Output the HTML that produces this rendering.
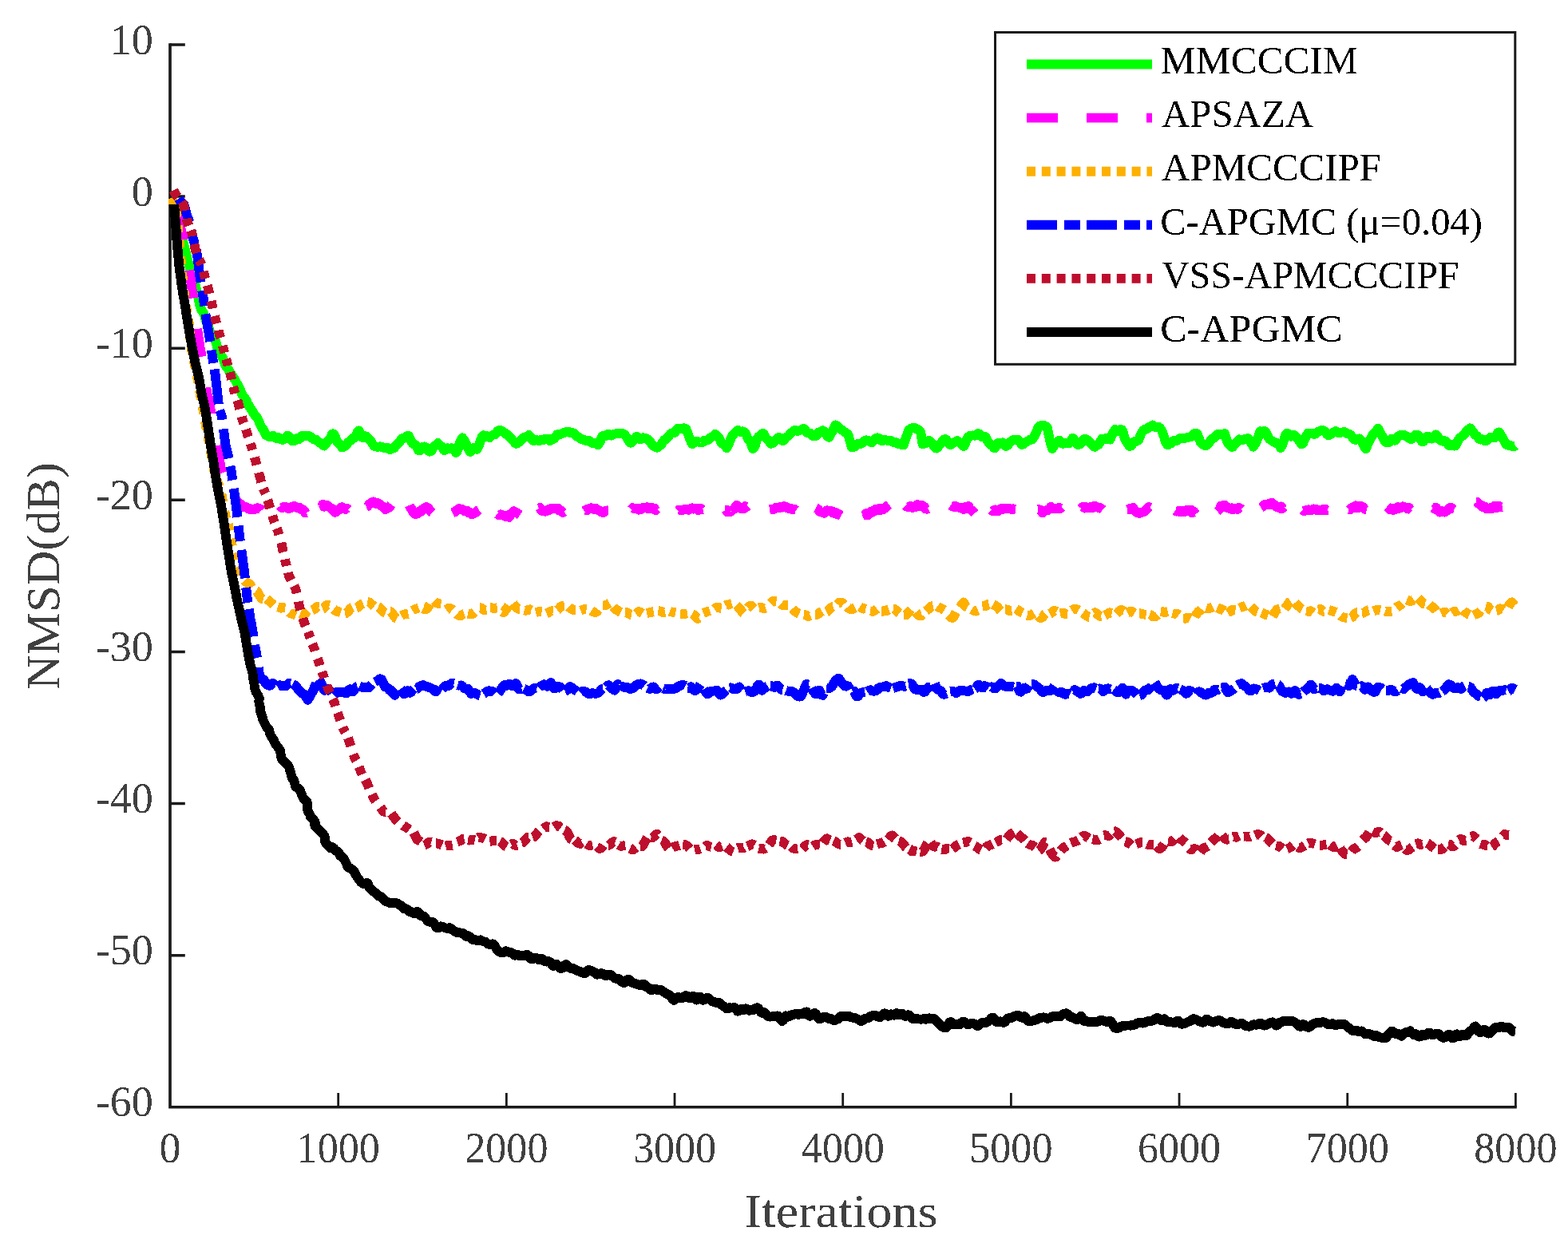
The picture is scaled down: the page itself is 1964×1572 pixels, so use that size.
<!DOCTYPE html>
<html><head><meta charset="utf-8"><title>NMSD vs Iterations</title>
<style>html,body{margin:0;padding:0;background:#fff;} svg{display:block;} text{font-family:'Liberation Serif', 'DejaVu Serif', serif;}</style>
</head><body>
<svg width="1964" height="1572" viewBox="0 0 1964 1572">
<rect width="1964" height="1572" fill="#fff"/>
<defs><filter id="alias" filterUnits="userSpaceOnUse" x="0" y="0" width="1964" height="1572" color-interpolation-filters="sRGB"><feComponentTransfer><feFuncA type="discrete" tableValues="0 1"/></feComponentTransfer></filter><clipPath id="plotclip"><rect x="211" y="40" width="1692" height="1347"/></clipPath></defs>
<path d="M213.0,54.25 V1386.77 H1899.8000000000002" fill="none" stroke="#1a1a1a" stroke-width="3.7" stroke-linejoin="miter" stroke-linecap="butt"/>
<path d="M213.0,56.00 H231.8 M213.0,246.11 H231.8 M213.0,436.22 H231.8 M213.0,626.33 H231.8 M213.0,816.44 H231.8 M213.0,1006.55 H231.8 M213.0,1196.66 H231.8" fill="none" stroke="#1a1a1a" stroke-width="3.5"/>
<path d="M423.68,1386.77 V1369.07 M634.35,1386.77 V1369.07 M845.03,1386.77 V1369.07 M1055.70,1386.77 V1369.07 M1266.38,1386.77 V1369.07 M1477.05,1386.77 V1369.07 M1687.73,1386.77 V1369.07 M1898.40,1386.77 V1369.07" fill="none" stroke="#1a1a1a" stroke-width="2.8"/>
<g clip-path="url(#plotclip)" shape-rendering="crispEdges"><path d="M216.0,249.3 L216.3,250.7 L216.7,252.2 L217.0,253.6 L217.3,255.0 L217.7,256.4 L218.0,257.8 L218.4,259.3 L218.7,260.9 L219.0,262.4 L219.4,264.0 L219.7,265.6 L220.0,267.2 L220.3,268.8 L220.6,270.3 L221.0,271.8 L221.3,273.4 L221.6,274.9 L221.9,276.4 L222.2,277.9 L222.6,279.2 L222.9,280.6 L223.3,282.0 L223.7,283.4 L224.0,284.8 L224.4,286.2 L224.8,287.7 L225.1,289.1 L225.5,290.5 L225.8,292.0 L226.2,293.4 L226.7,294.8 L227.1,296.1 L227.5,297.5 L227.9,298.9 L228.3,300.1 L228.8,301.4 L229.2,302.6 L229.6,303.8 L229.9,305.1 L230.3,306.5 L230.6,307.9 L231.0,309.3 L231.3,310.7 L231.7,312.1 L232.0,313.5 L232.4,315.1 L232.7,316.7 L233.1,318.3 L233.5,319.9 L233.9,321.4 L234.3,323.1 L234.7,324.7 L235.1,326.3 L235.5,327.9 L236.0,329.5 L236.4,331.0 L236.8,332.4 L237.2,333.7 L237.6,335.1 L238.0,336.5 L238.4,337.7 L238.9,338.9 L239.3,340.1 L239.8,341.2 L240.2,342.5 L240.7,343.8 L241.1,345.1 L241.6,346.4 L242.0,347.7 L242.5,349.3 L242.9,350.8 L243.4,352.4 L243.8,354.0 L244.3,355.5 L244.7,357.1 L245.1,358.6 L245.4,360.2 L245.8,361.7 L246.1,363.3 L246.5,364.9 L246.9,366.5 L247.2,368.1 L247.6,369.7 L248.0,371.4 L248.3,373.1 L248.7,374.9 L249.1,376.7 L249.4,378.4 L249.8,380.2 L250.1,381.7 L250.5,382.8 L250.9,383.9 L251.2,385.1 L251.6,386.2 L252.0,387.3 L252.3,388.0 L252.7,388.6 L253.1,389.2 L253.4,389.8 L253.8,390.4 L254.3,391.3 L254.9,392.5 L255.5,393.8 L256.2,395.4 L256.8,397.6 L257.5,399.8 L258.1,402.0 L258.7,403.7 L259.4,405.5 L260.0,407.2 L260.7,408.8 L261.3,410.4 L261.9,412.0 L262.6,413.9 L263.3,415.8 L264.0,417.7 L264.7,419.2 L265.4,420.6 L266.1,421.9 L266.9,422.3 L267.6,422.7 L268.3,423.5 L269.0,425.0 L269.7,426.5 L270.4,428.4 L270.9,430.6 L271.5,432.7 L272.0,434.9 L272.5,436.2 L273.1,437.6 L273.6,438.9 L274.1,440.2 L274.6,441.1 L275.2,442.1 L275.7,443.0 L276.2,443.9 L276.8,444.7 L277.3,445.5 L277.8,446.2 L278.4,447.2 L278.9,448.4 L279.4,449.5 L279.9,450.6 L280.5,452.3 L281.1,454.2 L281.9,456.1 L282.6,457.6 L283.3,459.0 L284.1,460.4 L284.8,461.1 L285.5,461.9 L286.3,462.9 L287.0,464.3 L287.7,465.7 L288.6,467.1 L289.5,468.6 L290.4,469.9 L291.3,471.1 L292.2,472.2 L293.1,473.8 L294.0,475.3 L294.9,476.8 L295.7,478.4 L296.4,479.8 L297.1,481.0 L297.9,482.2 L298.6,483.5 L299.3,484.8 L300.0,486.1 L300.7,487.9 L301.4,489.7 L302.1,491.4 L302.8,493.0 L303.5,494.6 L304.3,495.9 L305.0,496.8 L305.7,497.6 L306.4,498.5 L307.1,499.5 L307.9,500.5 L308.6,501.9 L309.3,503.4 L310.0,504.9 L310.8,506.3 L311.5,507.8 L312.2,509.1 L313.0,510.3 L313.8,511.4 L314.6,512.6 L315.4,513.7 L316.2,514.9 L317.0,516.5 L317.8,518.1 L318.6,519.2 L319.3,520.2 L320.1,521.2 L320.8,521.9 L321.6,522.5 L322.4,523.6 L323.1,525.1 L323.9,526.7 L324.6,528.4 L325.3,530.2 L326.0,532.0 L326.7,533.2 L327.3,534.5 L328.0,535.7 L328.7,536.5 L329.3,537.3 L330.0,538.2 L330.6,539.5 L331.2,540.8 L331.9,542.1 L332.5,543.8 L333.4,545.3 L334.9,545.9 L336.4,546.4 L337.9,547.1 L339.4,546.8 L340.9,546.1 L342.3,545.8 L343.8,547.3 L345.2,548.8 L346.7,549.2 L348.1,548.3 L349.6,548.2 L351.0,549.2 L352.5,550.4 L354.0,550.9 L355.4,550.3 L356.9,549.0 L358.3,547.3 L359.8,545.9 L361.2,546.0 L362.4,547.5 L363.6,549.2 L364.8,550.7 L366.0,552.2 L367.2,552.4 L368.4,552.3 L369.6,551.1 L370.7,549.9 L371.9,549.3 L373.0,549.9 L374.1,550.4 L375.2,549.5 L376.4,548.4 L377.5,546.6 L378.9,545.8 L380.3,545.6 L381.7,545.8 L383.1,545.8 L384.5,545.5 L385.9,545.6 L387.0,546.2 L388.1,546.7 L389.2,547.2 L390.3,547.9 L391.4,549.1 L392.6,550.1 L393.7,550.7 L394.8,550.8 L395.9,550.5 L397.2,551.7 L398.5,552.9 L399.8,554.1 L401.1,554.6 L402.4,555.2 L403.7,556.4 L404.9,557.8 L406.1,558.5 L406.9,557.5 L407.7,556.6 L408.5,555.4 L409.3,554.3 L410.1,553.1 L410.9,552.1 L411.7,551.2 L412.5,550.2 L413.3,549.2 L414.1,548.2 L414.9,546.2 L415.6,544.3 L416.5,543.3 L417.3,543.4 L418.1,543.7 L419.0,545.2 L419.8,546.6 L420.6,548.8 L421.5,551.2 L422.3,553.1 L423.1,554.0 L423.9,555.0 L424.8,555.6 L425.6,556.2 L426.4,557.3 L427.3,558.8 L428.1,560.3 L429.2,560.3 L430.4,559.8 L431.5,559.2 L432.7,558.3 L433.9,557.1 L435.1,555.6 L436.2,554.1 L437.4,553.1 L438.6,552.1 L439.6,551.1 L440.7,550.0 L441.7,548.9 L442.8,548.6 L443.9,548.5 L444.9,547.7 L446.0,546.8 L447.1,543.5 L448.1,540.4 L449.3,539.4 L450.6,541.2 L451.9,545.1 L453.2,547.5 L454.5,548.3 L455.8,546.7 L457.1,546.2 L458.4,546.5 L459.7,548.1 L460.9,548.9 L461.9,549.8 L462.9,550.7 L463.9,551.7 L464.9,553.2 L465.9,554.9 L466.9,556.3 L467.9,557.8 L468.9,558.8 L470.3,559.2 L471.7,559.6 L473.2,559.7 L474.6,559.6 L476.1,559.4 L477.5,559.7 L479.0,560.1 L480.4,560.6 L481.8,561.1 L483.3,561.0 L484.8,560.8 L486.2,561.4 L487.7,562.9 L489.2,562.8 L490.6,562.2 L492.1,561.4 L493.6,561.2 L494.6,559.9 L495.6,558.4 L496.6,557.2 L497.6,556.1 L498.6,555.3 L499.6,554.6 L500.6,553.5 L501.6,552.0 L502.6,550.5 L503.6,549.0 L505.1,549.0 L506.5,548.7 L508.0,547.7 L509.5,546.2 L510.9,545.6 L512.1,546.1 L513.0,548.3 L513.9,550.4 L514.7,552.2 L515.6,554.0 L516.5,555.1 L517.3,555.6 L518.2,556.2 L519.1,556.7 L519.9,557.2 L520.8,558.1 L521.7,559.0 L522.5,560.6 L523.4,562.6 L524.3,564.2 L525.5,564.5 L526.7,563.6 L527.9,561.9 L529.1,560.6 L530.3,559.6 L531.5,559.4 L532.8,560.1 L534.1,561.6 L535.3,563.2 L536.6,564.5 L537.9,565.7 L539.1,565.3 L540.4,564.7 L541.4,562.6 L542.4,560.9 L543.4,559.9 L544.4,558.9 L545.4,558.0 L546.4,557.1 L547.4,556.1 L548.4,555.0 L549.3,556.0 L550.3,557.0 L551.2,557.7 L552.1,558.4 L553.1,559.3 L554.0,560.1 L554.9,561.9 L555.9,563.6 L556.9,564.1 L558.1,562.9 L559.3,561.7 L560.5,561.1 L561.7,561.7 L562.9,562.0 L564.1,561.9 L565.2,561.3 L566.3,561.8 L567.3,562.0 L568.4,562.6 L569.5,564.1 L570.5,566.2 L571.3,567.0 L572.0,566.6 L572.8,564.8 L573.5,562.9 L574.2,560.9 L574.9,558.2 L575.6,555.5 L576.3,553.3 L577.0,551.9 L577.7,550.5 L578.4,549.2 L579.1,548.3 L580.0,549.6 L580.8,550.7 L581.6,551.8 L582.5,553.1 L583.3,554.7 L584.1,556.3 L585.0,558.2 L585.8,560.0 L586.6,561.9 L587.4,563.9 L588.3,565.4 L589.1,565.9 L590.5,564.1 L592.0,561.4 L593.4,561.0 L594.9,561.3 L596.3,562.1 L597.5,562.6 L598.1,561.7 L598.6,560.5 L599.2,559.4 L599.7,558.2 L600.3,556.7 L600.9,555.0 L601.4,553.3 L602.0,551.6 L602.5,550.2 L603.1,548.8 L603.6,547.4 L604.2,546.3 L604.8,545.7 L605.3,545.2 L606.3,546.3 L607.5,547.3 L608.7,547.2 L609.9,546.2 L611.1,546.5 L612.3,547.0 L613.5,547.9 L614.7,546.9 L615.8,545.6 L617.0,545.0 L618.1,544.6 L619.3,544.5 L620.4,543.8 L621.6,542.1 L622.7,540.7 L623.9,539.5 L625.0,538.9 L626.2,538.7 L627.4,539.3 L628.5,539.8 L629.7,540.5 L630.9,541.4 L632.1,542.4 L633.2,543.2 L634.4,543.9 L635.6,544.4 L636.7,545.4 L637.8,546.7 L638.9,548.1 L640.1,549.5 L641.2,550.6 L642.3,551.8 L643.4,552.9 L644.5,554.1 L645.6,555.3 L646.8,555.8 L648.1,555.3 L649.5,554.2 L650.8,552.9 L652.1,551.7 L653.4,550.6 L654.7,549.5 L656.0,548.3 L657.3,547.8 L658.6,547.4 L659.9,547.2 L661.2,546.0 L662.5,545.0 L663.7,546.1 L664.8,547.8 L665.9,549.8 L667.0,551.0 L668.2,551.9 L669.3,551.7 L670.4,551.7 L671.8,550.9 L673.3,551.8 L674.7,552.3 L676.2,552.0 L677.6,551.0 L679.1,551.0 L680.6,551.0 L682.1,550.2 L683.6,549.6 L685.1,549.9 L686.6,550.6 L688.1,550.9 L689.6,550.1 L691.0,549.9 L689.8,550.8 L688.6,552.2 L689.0,551.7 L690.2,550.5 L691.5,549.7 L692.7,549.5 L694.0,549.8 L695.2,548.0 L696.5,546.3 L697.7,544.5 L699.0,544.3 L700.2,544.3 L701.6,544.2 L703.0,543.6 L704.4,542.9 L705.8,542.2 L707.2,541.7 L708.6,541.2 L709.9,540.6 L711.3,540.5 L712.7,541.2 L714.1,542.0 L715.5,542.0 L716.9,542.0 L718.3,542.4 L719.7,543.8 L721.0,545.0 L722.1,546.3 L723.3,546.7 L724.4,547.2 L725.5,548.1 L726.6,549.0 L727.7,550.0 L728.8,550.3 L729.9,550.3 L731.1,551.2 L732.6,551.3 L734.1,551.8 L735.6,551.5 L737.1,551.7 L738.6,552.3 L739.9,553.8 L741.2,554.6 L742.5,555.0 L743.8,554.7 L745.1,555.2 L746.3,555.8 L747.6,556.3 L748.9,557.3 L749.6,556.7 L750.1,555.5 L750.5,554.8 L751.0,554.1 L751.5,553.4 L752.0,552.7 L752.4,551.0 L752.9,549.3 L753.6,547.6 L755.0,546.2 L756.5,545.6 L758.0,546.5 L759.5,545.3 L761.0,544.1 L762.4,543.6 L763.9,545.0 L765.4,545.6 L766.9,545.0 L768.4,543.9 L769.8,543.6 L771.3,543.4 L772.8,543.1 L774.3,542.7 L775.8,542.9 L777.2,542.8 L778.5,542.9 L779.6,542.9 L780.7,543.3 L781.8,543.9 L782.9,545.1 L784.0,546.5 L785.1,548.1 L786.2,549.8 L787.3,551.7 L788.4,553.3 L789.5,554.7 L790.7,554.6 L791.8,553.5 L792.9,552.3 L794.0,551.1 L795.2,549.6 L796.3,548.1 L797.4,546.9 L798.7,547.1 L800.1,548.9 L801.5,550.2 L802.9,549.9 L804.4,548.9 L805.8,548.3 L807.2,548.7 L808.6,549.1 L810.1,549.4 L811.3,550.2 L812.5,551.3 L813.7,552.7 L814.9,554.2 L816.1,555.8 L817.3,557.3 L818.5,558.5 L819.7,559.0 L820.9,559.8 L822.1,560.6 L823.3,560.6 L824.5,559.7 L825.7,558.8 L826.9,557.9 L828.1,557.0 L829.3,555.0 L830.5,553.2 L831.7,551.5 L832.9,550.7 L834.1,550.1 L835.2,549.0 L836.3,547.8 L837.4,546.4 L838.4,545.1 L839.5,543.9 L840.6,543.1 L841.6,542.4 L842.7,542.2 L843.9,542.5 L845.1,541.7 L846.4,540.3 L847.6,538.3 L848.9,536.9 L850.3,536.7 L851.8,537.2 L853.3,537.2 L854.8,536.9 L856.3,536.3 L857.8,536.4 L859.3,537.1 L859.9,538.7 L860.6,540.4 L861.3,542.1 L862.0,543.8 L862.6,545.7 L863.3,547.7 L864.0,549.7 L864.6,551.2 L865.3,552.7 L866.0,554.2 L866.7,555.2 L867.3,556.2 L868.7,555.1 L870.2,553.8 L871.6,552.8 L873.1,552.9 L874.6,553.2 L876.0,553.6 L877.5,554.5 L879.0,554.5 L880.5,553.7 L882.0,551.8 L883.5,551.9 L884.8,551.6 L886.0,551.4 L887.3,550.6 L888.6,549.6 L889.9,548.3 L891.1,547.6 L892.2,546.9 L893.0,546.4 L893.9,545.9 L894.7,545.0 L895.5,544.0 L896.4,544.1 L897.2,544.9 L898.0,545.8 L898.9,546.4 L899.7,547.1 L900.5,548.3 L901.4,549.9 L902.2,551.5 L903.0,553.4 L903.9,555.2 L904.9,555.9 L905.9,556.2 L907.0,556.6 L908.0,557.2 L909.1,559.3 L910.2,561.3 L910.7,560.3 L911.3,559.4 L911.9,558.4 L912.5,557.0 L913.1,555.4 L913.7,553.9 L914.3,552.4 L914.9,550.8 L915.5,549.3 L916.1,547.8 L917.0,546.4 L918.0,545.0 L919.1,543.6 L920.2,542.3 L921.2,541.3 L922.3,540.4 L923.3,539.6 L924.4,538.9 L925.8,540.2 L927.2,540.9 L928.6,541.0 L930.0,540.4 L931.4,540.8 L932.8,541.8 L934.2,543.4 L935.0,545.0 L935.6,546.8 L936.2,548.3 L936.8,549.3 L937.4,550.3 L938.1,551.3 L938.7,552.1 L939.3,552.9 L939.9,553.8 L940.5,555.3 L941.1,557.0 L941.7,558.8 L942.3,560.7 L943.0,562.0 L943.7,561.6 L944.5,560.5 L945.2,559.0 L946.0,557.5 L946.7,555.0 L947.4,552.4 L948.2,550.2 L948.9,549.0 L949.7,547.8 L950.4,546.8 L951.4,546.6 L952.9,545.6 L954.3,543.7 L955.7,542.9 L957.1,544.0 L958.0,546.5 L959.0,548.0 L959.9,549.5 L960.8,550.2 L961.8,550.9 L962.7,552.0 L963.6,553.3 L964.6,554.8 L965.7,555.8 L966.9,555.5 L968.2,555.0 L969.5,554.0 L970.8,552.7 L972.1,551.3 L973.4,549.6 L974.7,548.3 L976.0,548.0 L977.4,549.5 L978.9,551.0 L980.3,552.1 L981.6,551.7 L982.7,550.1 L983.8,548.4 L984.8,547.6 L985.9,547.1 L986.9,546.4 L988.0,545.6 L989.1,543.9 L990.3,542.5 L991.8,541.6 L993.2,540.5 L994.7,539.5 L996.2,538.8 L997.6,539.5 L999.1,539.8 L1000.5,539.6 L1002.0,539.0 L1003.4,538.6 L1004.9,537.7 L1006.3,537.0 L1007.6,537.5 L1009.0,539.2 L1010.3,541.2 L1011.7,542.5 L1013.0,542.5 L1014.4,542.5 L1015.7,543.6 L1017.1,545.1 L1018.6,546.2 L1020.0,546.5 L1021.5,546.3 L1022.9,545.0 L1024.4,543.2 L1025.5,541.6 L1026.7,541.0 L1027.8,541.1 L1029.0,540.3 L1030.1,539.3 L1031.3,539.5 L1032.5,540.4 L1033.7,541.9 L1034.9,544.0 L1036.1,546.1 L1037.3,547.1 L1038.5,547.7 L1039.2,546.0 L1040.0,544.2 L1040.7,543.1 L1041.5,542.0 L1042.2,540.9 L1043.0,539.5 L1043.7,538.2 L1044.4,536.7 L1045.2,535.1 L1045.9,533.5 L1046.7,532.4 L1048.0,533.2 L1049.2,534.2 L1050.5,535.4 L1051.7,536.6 L1053.0,537.4 L1054.1,538.2 L1055.3,539.0 L1056.5,540.0 L1057.7,541.1 L1058.8,541.8 L1060.0,542.4 L1061.2,543.4 L1062.3,544.7 L1063.1,546.5 L1063.5,548.2 L1063.9,550.0 L1064.3,551.5 L1064.8,553.0 L1065.2,554.5 L1065.6,556.0 L1066.0,557.4 L1066.4,558.8 L1066.8,560.1 L1067.9,560.1 L1069.3,559.9 L1070.7,559.4 L1072.2,558.3 L1073.6,556.6 L1075.1,555.8 L1076.5,555.7 L1078.0,556.1 L1079.4,555.3 L1080.9,553.9 L1082.4,552.4 L1083.8,551.6 L1085.2,551.4 L1086.6,551.6 L1088.0,552.0 L1089.4,553.3 L1090.8,554.0 L1092.2,554.1 L1093.6,553.0 L1095.0,551.5 L1096.4,549.9 L1097.8,548.6 L1099.2,548.3 L1100.6,548.7 L1101.9,549.7 L1103.2,551.3 L1104.5,552.2 L1105.8,551.9 L1107.1,551.3 L1108.4,551.0 L1109.7,551.3 L1111.0,551.6 L1112.3,551.9 L1113.6,551.8 L1115.1,551.8 L1116.6,552.4 L1118.0,553.5 L1119.5,554.1 L1120.9,553.9 L1122.3,554.1 L1123.7,555.2 L1125.1,556.1 L1126.5,556.5 L1127.9,556.4 L1129.3,557.1 L1130.7,557.5 L1132.0,557.3 L1132.6,555.4 L1133.1,553.6 L1133.6,551.7 L1134.1,550.0 L1134.7,548.6 L1135.2,547.2 L1135.7,545.8 L1136.3,544.4 L1136.8,543.0 L1137.3,541.6 L1137.8,540.1 L1138.4,538.6 L1139.6,537.6 L1140.9,536.9 L1142.3,536.3 L1143.6,536.1 L1144.9,535.6 L1146.1,536.4 L1147.2,536.8 L1148.3,537.3 L1149.5,537.9 L1150.6,538.6 L1151.7,539.4 L1152.9,541.1 L1153.5,542.9 L1153.8,544.6 L1154.0,546.2 L1154.3,547.9 L1154.5,549.6 L1154.8,551.2 L1155.0,552.9 L1155.3,554.5 L1155.5,556.2 L1156.7,556.2 L1158.1,555.5 L1159.5,555.0 L1160.9,554.3 L1162.3,553.4 L1163.7,552.0 L1165.0,552.5 L1166.2,553.7 L1167.4,555.6 L1168.6,557.2 L1169.8,558.6 L1171.0,560.0 L1172.2,561.5 L1173.3,561.6 L1174.4,560.5 L1175.4,558.7 L1176.5,557.2 L1177.6,556.1 L1178.6,555.0 L1179.7,554.1 L1180.7,552.2 L1181.9,550.9 L1183.2,550.4 L1184.5,550.3 L1185.7,551.0 L1187.0,553.0 L1188.3,555.1 L1189.6,556.9 L1191.0,556.8 L1192.4,555.9 L1193.9,554.8 L1195.4,554.2 L1196.8,553.5 L1198.3,552.3 L1199.5,552.2 L1200.8,553.2 L1202.1,554.7 L1203.4,555.8 L1204.6,556.8 L1205.9,557.8 L1207.1,558.9 L1207.9,558.3 L1208.7,556.3 L1209.6,554.1 L1210.4,552.0 L1211.2,549.9 L1212.1,547.9 L1212.9,547.3 L1213.7,546.7 L1214.6,546.1 L1215.4,545.6 L1216.8,545.7 L1218.3,545.4 L1219.7,545.5 L1221.2,545.7 L1222.6,545.1 L1224.1,543.7 L1225.4,543.1 L1226.8,543.8 L1228.1,545.4 L1229.5,547.1 L1230.8,547.4 L1232.1,546.7 L1233.5,546.7 L1234.8,548.0 L1235.8,550.0 L1236.8,551.9 L1237.8,553.7 L1238.8,555.0 L1239.8,556.2 L1240.8,557.0 L1241.9,557.6 L1242.9,558.3 L1243.9,559.1 L1244.9,560.7 L1245.9,561.2 L1246.9,559.9 L1247.9,558.5 L1248.9,556.9 L1249.9,555.2 L1250.9,555.5 L1251.9,556.0 L1252.9,555.5 L1253.9,554.9 L1254.9,554.7 L1255.9,554.3 L1256.9,555.2 L1257.8,556.3 L1258.8,557.6 L1259.8,558.9 L1260.8,558.6 L1261.8,558.1 L1262.8,557.2 L1263.7,555.0 L1264.7,554.0 L1265.6,553.3 L1266.6,552.8 L1267.5,552.3 L1268.4,551.7 L1269.4,551.2 L1270.3,550.6 L1271.4,550.6 L1272.8,551.3 L1274.2,551.3 L1275.6,551.1 L1277.0,552.5 L1278.4,554.7 L1279.8,556.9 L1281.3,556.7 L1282.7,555.8 L1284.2,554.4 L1285.6,553.5 L1287.1,552.6 L1288.5,551.7 L1290.0,550.7 L1291.4,550.7 L1292.7,550.4 L1293.4,549.4 L1294.2,548.5 L1294.9,547.4 L1295.7,546.3 L1296.5,544.9 L1297.2,543.2 L1298.0,541.4 L1298.8,539.5 L1299.5,537.5 L1300.3,536.0 L1301.0,535.2 L1301.8,534.4 L1302.6,533.5 L1303.5,533.1 L1304.7,533.3 L1306.0,532.8 L1307.3,533.0 L1308.5,533.3 L1309.8,533.9 L1311.1,534.9 L1311.9,536.3 L1312.3,538.2 L1312.7,540.3 L1313.1,542.4 L1313.5,544.5 L1313.9,546.5 L1314.4,548.4 L1314.8,550.2 L1315.2,552.0 L1315.6,553.8 L1316.0,555.6 L1316.4,556.9 L1316.8,558.2 L1317.2,559.4 L1317.7,560.7 L1318.1,562.0 L1319.1,560.2 L1320.2,558.5 L1321.2,557.2 L1322.3,555.8 L1323.4,554.5 L1324.4,553.3 L1325.5,552.2 L1326.6,551.6 L1327.9,553.3 L1329.2,554.8 L1330.6,555.7 L1331.9,555.6 L1333.2,555.2 L1334.6,555.2 L1335.9,554.8 L1337.2,554.8 L1338.4,554.9 L1339.7,555.0 L1341.0,553.3 L1342.3,551.1 L1343.5,548.8 L1344.8,549.8 L1346.1,552.3 L1347.4,554.9 L1348.7,556.3 L1350.0,556.8 L1351.2,556.9 L1352.5,556.6 L1353.8,555.8 L1355.1,553.8 L1356.4,551.5 L1357.6,550.2 L1358.9,550.0 L1360.2,550.3 L1361.5,550.9 L1362.7,551.3 L1363.8,552.8 L1364.9,554.1 L1366.0,555.2 L1367.0,556.1 L1368.1,557.1 L1369.1,558.3 L1370.2,559.3 L1371.3,559.8 L1372.5,559.0 L1373.8,558.0 L1375.1,557.5 L1376.3,556.6 L1377.6,554.2 L1378.9,551.8 L1380.2,549.8 L1381.5,550.2 L1382.9,550.4 L1384.4,550.2 L1385.8,548.8 L1387.3,549.5 L1388.8,550.3 L1390.3,550.6 L1391.2,548.9 L1391.8,547.1 L1392.5,545.6 L1393.1,544.2 L1393.7,542.7 L1394.4,541.6 L1395.0,540.6 L1395.6,539.7 L1396.2,538.8 L1396.9,538.0 L1397.9,538.4 L1399.4,540.0 L1400.8,540.5 L1402.3,539.7 L1403.7,538.0 L1405.2,538.4 L1406.2,540.0 L1406.9,542.5 L1407.6,545.0 L1408.3,547.3 L1409.0,549.2 L1409.7,551.1 L1410.4,552.4 L1411.1,553.3 L1411.8,554.1 L1412.5,555.3 L1413.2,556.6 L1413.9,557.9 L1415.0,558.8 L1416.5,558.4 L1417.9,556.9 L1419.4,554.8 L1420.8,553.2 L1422.3,552.5 L1423.4,552.9 L1424.2,552.5 L1425.0,552.0 L1425.9,551.6 L1426.7,549.7 L1427.5,547.6 L1428.4,545.6 L1429.2,543.7 L1430.0,541.9 L1430.9,540.7 L1431.7,539.5 L1432.5,538.7 L1433.4,538.1 L1434.4,537.9 L1435.6,537.7 L1436.8,536.9 L1438.0,535.7 L1439.1,535.1 L1440.3,534.5 L1441.5,533.8 L1442.7,533.2 L1443.8,532.5 L1445.0,533.3 L1446.1,534.7 L1447.2,535.1 L1448.3,535.2 L1449.4,534.9 L1450.5,534.9 L1451.7,535.1 L1452.8,536.1 L1453.9,537.3 L1455.0,538.9 L1455.7,540.6 L1456.4,542.5 L1457.1,544.5 L1457.8,546.5 L1458.5,548.7 L1459.2,551.1 L1459.9,553.5 L1460.6,554.8 L1461.3,555.9 L1462.0,557.0 L1462.7,557.1 L1463.5,557.2 L1464.8,555.8 L1466.2,555.3 L1467.7,555.0 L1469.1,553.2 L1470.5,551.7 L1471.9,551.5 L1473.4,552.2 L1474.8,551.7 L1476.2,550.4 L1477.5,549.3 L1478.8,548.8 L1480.1,548.9 L1481.6,549.2 L1483.0,549.1 L1484.4,548.8 L1485.9,548.5 L1487.3,548.1 L1488.7,547.7 L1490.2,547.3 L1491.7,547.2 L1493.1,546.0 L1494.6,544.5 L1496.1,543.0 L1497.6,542.5 L1499.1,542.9 L1500.1,544.4 L1501.0,546.8 L1501.9,549.2 L1502.8,551.5 L1503.7,553.7 L1504.6,555.0 L1505.6,555.9 L1506.5,556.5 L1507.4,556.8 L1508.3,557.3 L1509.2,558.1 L1510.2,558.5 L1511.2,557.7 L1512.2,556.8 L1513.2,555.9 L1514.2,554.9 L1515.2,553.5 L1516.3,552.0 L1517.3,550.6 L1518.3,549.5 L1519.3,549.3 L1520.3,548.8 L1521.4,548.0 L1522.4,546.7 L1523.7,544.9 L1525.2,543.9 L1526.7,543.5 L1528.2,543.7 L1529.6,544.5 L1531.1,544.2 L1532.6,543.5 L1533.9,543.3 L1534.7,545.6 L1535.6,548.3 L1536.5,550.8 L1537.3,553.1 L1538.2,555.2 L1539.1,556.2 L1540.0,557.2 L1540.8,558.2 L1541.7,559.2 L1542.6,559.7 L1543.4,559.8 L1544.3,559.7 L1545.3,557.6 L1546.3,556.1 L1547.3,555.8 L1548.3,555.2 L1549.3,554.0 L1550.3,552.7 L1551.3,551.3 L1552.3,550.4 L1553.6,551.0 L1555.1,551.3 L1556.5,551.0 L1558.0,550.3 L1559.5,550.2 L1561.0,549.7 L1562.4,549.2 L1563.7,549.3 L1564.4,550.5 L1565.2,551.8 L1566.0,553.0 L1566.8,554.2 L1567.5,555.4 L1568.3,556.8 L1569.1,558.3 L1569.8,559.7 L1570.4,558.7 L1571.1,557.8 L1571.7,556.9 L1572.3,555.9 L1572.9,554.8 L1573.5,553.7 L1574.1,552.5 L1574.7,550.9 L1575.3,549.3 L1575.9,547.7 L1576.5,545.8 L1577.1,543.8 L1577.8,541.8 L1578.4,540.2 L1579.7,540.7 L1581.0,541.1 L1582.4,541.1 L1583.7,539.8 L1585.1,540.8 L1586.4,542.8 L1587.6,545.8 L1588.6,547.9 L1589.7,549.5 L1590.8,550.5 L1591.8,551.3 L1592.9,551.9 L1593.9,552.6 L1595.0,553.3 L1596.0,554.1 L1597.0,554.4 L1598.0,554.8 L1599.0,554.9 L1600.0,555.1 L1601.0,556.1 L1602.0,557.2 L1603.0,559.0 L1604.0,560.8 L1604.7,559.8 L1605.4,558.7 L1606.1,557.5 L1606.8,555.4 L1607.5,553.4 L1608.3,551.2 L1609.0,548.8 L1609.7,546.4 L1610.4,544.8 L1611.1,543.9 L1611.8,543.0 L1612.5,542.6 L1613.9,545.0 L1615.4,546.4 L1616.9,546.7 L1618.4,546.0 L1619.8,544.7 L1621.3,545.2 L1622.8,546.7 L1624.3,548.6 L1625.7,549.3 L1626.8,551.1 L1627.8,553.0 L1628.9,554.6 L1630.0,556.1 L1631.0,555.9 L1632.0,555.3 L1632.8,553.4 L1633.6,551.5 L1634.3,549.8 L1635.1,548.3 L1635.9,546.9 L1636.6,545.4 L1637.4,544.0 L1638.2,542.7 L1639.6,542.8 L1641.0,543.0 L1642.4,543.2 L1643.8,543.3 L1645.3,543.8 L1646.7,543.8 L1648.1,543.2 L1649.5,541.8 L1650.9,540.6 L1652.4,540.3 L1653.8,539.6 L1655.3,539.1 L1656.7,539.1 L1658.1,539.6 L1659.6,540.8 L1661.0,542.6 L1662.5,544.3 L1664.0,545.3 L1665.5,544.9 L1666.9,544.0 L1668.4,542.9 L1669.9,542.0 L1671.4,540.8 L1672.9,540.2 L1674.4,540.6 L1675.9,542.0 L1677.4,542.1 L1678.9,541.9 L1680.4,541.5 L1681.9,541.5 L1683.4,541.1 L1684.7,541.4 L1686.1,542.1 L1687.5,543.1 L1688.9,543.5 L1690.3,543.9 L1691.7,544.9 L1693.1,546.7 L1694.5,548.6 L1695.8,550.1 L1697.2,550.8 L1698.5,550.9 L1699.8,550.3 L1701.2,549.6 L1702.5,549.4 L1703.5,550.4 L1704.5,551.6 L1705.5,553.1 L1706.5,554.9 L1707.5,557.1 L1708.5,559.1 L1709.5,561.0 L1710.5,562.2 L1711.3,561.5 L1712.0,559.7 L1712.8,557.8 L1713.5,555.9 L1714.2,554.1 L1714.9,552.9 L1715.6,551.6 L1716.4,550.2 L1717.1,548.8 L1717.9,547.5 L1718.8,546.0 L1719.7,544.4 L1720.5,543.4 L1721.4,542.6 L1722.3,541.8 L1723.2,540.9 L1724.1,539.9 L1725.0,538.3 L1725.8,536.7 L1726.6,537.7 L1727.3,539.0 L1728.0,540.4 L1728.7,541.8 L1729.4,543.2 L1730.1,544.5 L1730.8,545.5 L1731.5,546.5 L1732.2,547.6 L1732.9,549.1 L1733.6,550.6 L1734.3,552.3 L1735.6,553.5 L1737.1,554.3 L1738.6,554.5 L1740.0,554.0 L1741.5,551.4 L1743.0,549.8 L1744.5,549.7 L1745.9,551.5 L1747.3,551.6 L1748.7,550.4 L1750.1,547.9 L1751.5,546.5 L1752.8,545.8 L1754.2,545.3 L1755.6,544.5 L1757.0,544.7 L1758.3,545.0 L1759.7,545.6 L1761.0,546.2 L1762.4,547.0 L1763.7,547.7 L1765.0,548.8 L1766.2,549.4 L1767.4,550.0 L1768.6,549.7 L1769.8,548.5 L1771.0,547.1 L1772.2,545.7 L1773.4,544.6 L1774.5,544.8 L1775.6,544.8 L1776.7,545.7 L1777.9,547.1 L1779.0,549.3 L1780.1,551.5 L1781.3,553.3 L1782.4,553.3 L1783.6,552.1 L1784.8,550.3 L1786.0,548.2 L1787.2,547.1 L1788.4,546.5 L1789.6,546.8 L1791.0,548.1 L1792.5,549.5 L1794.0,549.6 L1795.4,547.5 L1796.9,545.6 L1798.4,544.5 L1799.8,545.5 L1801.2,547.8 L1802.2,550.0 L1803.3,550.9 L1804.3,551.7 L1805.4,552.0 L1806.5,552.4 L1807.5,552.8 L1808.6,552.8 L1809.8,552.2 L1811.3,552.8 L1812.8,554.8 L1814.3,557.4 L1815.8,558.2 L1817.3,557.5 L1818.8,556.9 L1820.2,556.9 L1821.7,558.6 L1822.8,558.4 L1823.8,557.5 L1824.7,555.5 L1825.7,553.2 L1826.6,551.4 L1827.5,550.0 L1828.5,548.8 L1829.4,548.0 L1830.3,547.1 L1831.4,546.4 L1832.5,545.5 L1833.6,544.5 L1834.7,543.1 L1835.8,541.6 L1837.0,540.3 L1838.1,539.0 L1839.2,538.1 L1840.3,537.3 L1841.4,536.3 L1842.4,537.5 L1843.4,538.8 L1844.4,540.2 L1845.5,541.7 L1846.5,543.1 L1847.5,544.3 L1848.5,545.3 L1849.5,545.9 L1850.5,546.8 L1851.5,548.2 L1852.7,549.5 L1854.2,550.6 L1855.6,550.3 L1857.1,550.4 L1858.5,551.0 L1860.0,552.2 L1861.4,552.0 L1862.8,551.2 L1864.2,550.2 L1865.6,549.0 L1867.0,547.9 L1868.4,547.5 L1869.8,548.1 L1871.1,548.5 L1872.3,548.2 L1873.6,546.3 L1874.9,544.1 L1876.1,542.2 L1877.4,541.5 L1878.3,542.3 L1879.1,543.6 L1879.9,544.9 L1880.7,546.3 L1881.5,547.7 L1882.3,549.1 L1883.1,550.4 L1883.8,551.7 L1884.6,553.1 L1885.4,554.4 L1886.2,555.9 L1887.6,557.2 L1889.1,557.7 L1890.6,557.9 L1892.1,558.1 L1893.6,558.7 L1895.1,559.3 L1896.6,559.2 L1898.1,558.0" fill="none" stroke="#00ff00" stroke-width="11.9" stroke-linejoin="round" stroke-linecap="butt"/>
<path d="M221.2,266.8 L221.6,268.1 L222.1,269.5 L222.5,270.9 L222.9,272.3 L223.3,273.7 L223.7,275.1 L224.1,276.5 L224.5,278.0 L224.8,279.6 L225.2,281.1 L225.6,282.7 L225.9,284.2 L226.3,285.6 L226.7,287.0 L227.0,288.3 L227.4,289.7 L227.7,291.1 L228.1,292.5 L228.4,293.8 L228.8,295.1 L229.1,296.4 L229.4,297.8 L229.8,299.1 L230.1,300.5 M237.1,338.5 L237.4,339.9 L237.6,341.4 L237.8,342.9 L238.1,344.3 L238.3,345.8 L238.5,347.2 L238.7,348.7 L238.9,350.1 L239.1,351.6 L239.3,353.0 L239.5,354.5 L239.7,355.9 L239.9,357.4 L240.1,358.8 L240.3,360.3 L240.5,361.7 L240.7,363.2 L240.9,364.6 L241.2,366.1 L241.4,367.6 L241.6,369.0 L241.8,370.5 L242.0,371.9 L242.2,373.4 M247.1,411.9 L247.3,413.4 L247.5,414.9 L247.7,416.4 L247.9,417.9 L248.1,419.4 L248.3,420.9 L248.6,422.4 L248.8,423.8 L249.0,425.3 L249.2,426.8 L249.5,428.3 L249.7,429.7 L249.9,431.2 L250.2,432.6 L250.4,434.1 L250.6,435.5 L250.9,436.9 L251.1,438.4 L251.3,439.8 L251.6,441.2 L251.8,442.6 L252.1,444.0 L252.3,445.5 L252.6,446.9 M258.1,485.5 L258.3,486.7 L258.6,487.8 L258.8,489.0 L259.0,490.2 L259.2,491.4 L259.4,492.6 L259.6,493.8 L259.8,495.0 L260.3,496.0 L260.7,497.1 L261.1,498.1 L261.4,499.4 L261.7,500.6 L261.9,501.9 L262.2,503.4 L262.4,505.1 L262.6,506.7 L262.9,508.3 L263.1,510.0 L263.4,511.6 L263.6,513.2 L263.8,514.9 L264.1,516.5 L264.3,518.3 M271.3,558.0 L271.5,559.4 L271.8,560.9 L272.1,562.3 L272.4,563.7 L272.7,565.1 L272.9,566.5 L273.2,567.9 L273.5,569.3 L273.8,570.7 L274.1,572.1 L274.3,573.5 L274.6,574.9 L274.9,576.4 L275.2,577.8 L275.4,579.2 L275.7,580.7 L275.9,582.1 L276.2,583.6 L276.4,585.1 L276.7,586.6 L277.1,588.0 L277.6,589.5 L278.0,590.9 L278.5,592.3 M295.5,625.4 L296.4,626.9 L297.4,628.2 L298.4,629.3 L299.4,630.1 L300.4,630.9 L301.6,631.4 L302.8,632.6 L303.9,634.3 L305.1,635.3 L306.5,635.5 L307.9,635.0 L309.3,636.0 L310.7,637.1 L312.2,637.7 L313.7,637.4 L315.2,637.8 L316.7,638.3 L318.2,638.4 L319.7,637.5 L321.2,636.6 L322.6,636.2 L324.1,636.5 L325.6,637.3 L326.9,637.9 L327.7,639.1 M350.9,633.6 L352.4,635.7 L353.9,636.1 L355.4,634.9 L356.9,634.7 L358.4,635.7 L359.9,636.3 L361.4,637.0 L362.9,636.0 L364.4,636.5 L365.9,634.8 L367.4,634.4 L368.9,634.0 L370.4,634.7 L371.9,635.7 L373.4,636.5 L374.9,635.6 L376.4,637.7 L377.9,637.9 L379.4,638.4 L380.9,639.3 L382.4,642.5 L383.9,642.0 M402.8,634.8 L404.3,631.8 L405.8,634.7 L407.3,633.4 L408.8,632.7 L410.3,633.1 L411.8,634.5 L413.3,635.6 L414.8,636.9 L416.3,637.3 L417.8,640.2 L419.3,641.7 L420.8,641.4 L422.3,639.6 L423.8,639.2 L425.3,638.2 L426.8,636.0 L428.3,635.3 L429.8,635.9 L431.3,636.7 L432.8,637.8 L434.3,636.5 L435.8,638.4 M458.8,635.1 L460.3,634.5 L461.8,632.6 L463.3,631.1 L464.8,630.1 L466.3,628.9 L467.8,628.4 L469.3,629.4 L470.8,630.8 L472.3,630.1 L473.8,631.5 L475.3,631.2 L476.8,632.7 L478.3,634.0 L479.8,634.7 L481.3,636.7 L482.8,638.1 L484.3,636.6 L485.8,636.8 L487.3,635.4 L488.8,634.0 L490.3,632.0 M512.8,632.9 L514.3,636.2 L515.8,637.8 L517.3,641.1 L518.8,642.6 L520.3,644.1 L521.8,643.2 L523.3,643.2 L524.8,640.4 L526.3,641.5 L527.8,640.1 L529.3,638.0 L530.8,637.3 L532.3,635.8 L533.8,635.0 L535.3,636.5 L536.8,636.7 L538.3,639.4 L539.8,641.1 L541.3,642.4 M566.8,642.3 L568.3,641.6 L569.8,641.3 L571.3,639.6 L572.8,639.1 L574.3,637.2 L575.8,637.4 L577.3,637.8 L578.8,638.0 L580.3,639.0 L581.8,640.2 L583.3,639.7 L584.8,639.7 L586.3,641.8 L587.8,642.6 L589.3,642.1 L590.8,644.2 L592.3,643.7 L593.8,642.9 L595.3,641.7 L596.8,641.8 L598.3,639.3 L599.8,638.6 M622.8,643.7 L624.3,644.9 L625.8,645.2 L627.3,644.4 L628.8,645.3 L630.3,645.5 L631.8,646.1 L633.3,647.2 L634.8,646.0 L636.3,645.5 L637.8,647.9 L639.3,644.0 L640.8,643.6 L642.3,642.4 L643.8,640.3 L645.3,641.2 L646.8,642.6 L648.3,642.8 L649.8,644.1 L651.3,645.1 M674.7,636.5 L676.2,636.0 L677.7,638.6 L679.2,640.1 L680.7,639.8 L682.2,640.6 L683.7,640.6 L685.2,639.4 L686.7,638.3 L688.2,638.8 L689.7,638.1 L691.2,636.7 L692.7,636.9 L694.2,636.9 L695.7,637.0 L697.2,636.9 L698.7,636.7 L700.2,639.3 L701.7,638.9 L703.2,639.9 L704.7,642.0 L706.2,640.8 M731.9,640.1 L733.4,639.0 L734.9,639.5 L736.4,637.5 L737.9,637.8 L739.4,636.5 L740.9,636.3 L742.4,636.8 L743.9,637.9 L745.4,637.7 L746.9,637.2 L748.4,638.9 L749.9,639.0 L751.4,639.8 L752.9,641.1 L754.4,641.6 L755.9,642.0 L757.4,640.5 L758.9,639.8 L760.4,639.4 L761.9,639.5 M791.0,638.1 L792.5,636.1 L794.0,636.8 L795.5,636.9 L797.0,636.9 L798.5,637.3 L800.0,638.8 L801.5,636.8 L803.0,638.0 L804.5,637.0 L806.0,635.6 L807.5,635.6 L809.0,635.8 L810.5,635.3 L812.0,637.1 L813.5,636.6 L815.0,636.7 L816.5,635.7 L818.0,637.1 L819.5,636.6 L821.0,639.2 L822.5,637.5 M849.0,639.7 L850.5,638.5 L852.0,639.0 L853.5,639.5 L855.0,638.9 L856.5,638.3 L858.0,638.2 L859.5,638.4 L861.0,637.5 L862.5,638.6 L864.0,637.5 L865.5,637.1 L867.0,636.3 L868.5,637.6 L870.0,636.9 L871.5,636.5 L873.0,636.8 L874.5,639.2 L876.0,636.8 L877.5,636.6 L879.0,638.2 L880.5,637.9 M908.0,638.6 L909.5,638.5 L911.0,641.3 L912.5,640.5 L914.0,641.4 L915.5,640.5 L917.0,639.0 L918.5,638.0 L920.0,637.6 L921.5,634.6 L923.0,632.9 L924.5,635.9 L926.0,636.5 L927.5,635.6 L929.0,637.2 L930.5,637.5 L932.0,636.9 L933.5,634.2 L935.0,634.8 L936.5,633.5 M964.0,638.2 L965.5,638.0 L967.0,638.1 L968.5,638.0 L970.0,637.4 L971.5,636.0 L973.0,635.8 L974.5,636.4 L976.0,636.2 L977.5,634.6 L979.0,634.8 L980.5,635.6 L982.0,634.2 L983.5,634.6 L985.0,635.0 L986.5,636.5 L988.0,636.9 L989.5,637.5 L991.0,637.2 L992.5,638.0 L994.0,638.3 L995.5,638.1 L997.0,639.3 M1022.0,636.2 L1023.5,637.0 L1025.0,638.2 L1026.5,640.4 L1028.0,641.6 L1029.5,641.6 L1031.0,642.2 L1032.5,642.7 L1034.0,641.4 L1035.5,639.4 L1037.0,639.5 L1038.5,639.5 L1040.0,640.6 L1041.5,640.3 L1043.0,642.3 L1044.5,641.3 L1046.0,643.3 L1047.5,642.1 L1049.0,644.1 L1050.5,643.7 L1052.0,645.2 L1053.5,646.1 M1080.6,645.8 L1082.1,645.3 L1083.6,644.8 L1085.1,642.8 L1086.6,645.5 L1088.1,642.5 L1089.6,643.2 L1091.1,640.4 L1092.6,640.4 L1094.1,641.0 L1095.6,640.0 L1097.1,637.6 L1098.6,638.2 L1100.1,639.1 L1101.6,636.8 L1103.1,638.8 L1104.6,636.9 L1106.1,638.3 L1107.6,636.5 L1109.1,636.4 L1110.6,634.1 L1112.1,633.2 L1113.6,632.1 M1134.0,633.2 L1135.5,634.6 L1137.0,634.7 L1138.5,635.1 L1140.0,633.9 L1141.5,635.4 L1143.0,635.8 L1144.5,635.0 L1146.0,634.9 L1147.5,634.7 L1149.0,632.1 L1150.5,634.0 L1152.0,634.2 L1153.5,633.9 L1155.0,633.2 L1156.5,634.8 L1158.0,635.2 L1159.5,637.5 L1161.0,637.7 L1162.5,637.0 M1190.7,633.2 L1192.2,634.2 L1193.7,634.5 L1195.2,634.8 L1196.7,633.9 L1198.2,634.5 L1199.7,635.3 L1201.2,635.8 L1202.7,635.5 L1204.2,636.1 L1205.7,636.9 L1207.2,638.0 L1208.7,635.2 L1210.2,636.3 L1211.7,636.7 L1213.2,634.0 L1214.7,637.5 L1216.2,638.8 L1217.7,639.2 L1219.2,641.3 L1220.7,643.1 M1242.0,638.7 L1243.5,640.3 L1245.0,639.0 L1246.5,638.5 L1248.0,640.3 L1249.5,640.5 L1251.0,639.5 L1252.5,638.4 L1254.0,637.2 L1255.5,636.7 L1257.0,637.7 L1258.5,637.3 L1260.0,636.9 L1261.5,637.4 L1263.0,637.0 L1264.5,636.7 L1266.0,637.4 L1267.5,638.2 L1269.0,637.3 L1270.5,637.8 L1272.0,638.0 M1299.8,638.3 L1301.3,638.2 L1302.8,638.9 L1304.3,639.3 L1305.8,642.5 L1307.3,641.2 L1308.8,640.0 L1310.3,639.2 L1311.8,639.3 L1313.3,638.4 L1314.8,636.9 L1316.3,634.8 L1317.8,637.2 L1319.3,637.4 L1320.8,637.2 L1322.3,637.1 L1323.8,636.7 L1325.3,637.4 L1326.8,636.0 L1328.3,636.8 L1329.8,635.4 M1354.3,637.0 L1355.8,635.2 L1357.3,634.9 L1358.8,636.6 L1360.3,635.3 L1361.8,635.8 L1363.3,635.6 L1364.8,636.2 L1366.3,634.7 L1367.8,636.2 L1369.3,636.0 L1370.8,633.6 L1372.3,635.3 L1373.8,635.1 L1375.3,635.8 L1376.8,636.1 L1378.3,636.2 L1379.8,637.2 L1381.3,638.5 M1412.0,638.0 L1413.5,638.1 L1415.0,636.9 L1416.5,637.7 L1418.0,636.8 L1419.5,635.8 L1421.0,639.1 L1422.5,640.6 L1424.0,641.8 L1425.5,642.5 L1427.0,642.8 L1428.5,642.6 L1430.0,641.8 L1431.5,641.3 L1433.0,640.8 L1434.5,639.5 L1436.0,637.5 L1437.5,637.0 L1439.0,635.1 L1440.5,635.9 M1472.0,639.5 L1473.5,640.6 L1475.0,640.4 L1476.5,640.7 L1478.0,639.7 L1479.5,640.8 L1481.0,640.0 L1482.5,641.0 L1484.0,640.4 L1485.5,640.7 L1487.0,638.9 L1488.5,639.6 L1490.0,639.7 L1491.5,638.6 L1493.0,642.2 L1494.5,641.7 L1496.0,641.2 L1497.5,643.8 M1524.8,640.6 L1526.3,639.3 L1527.8,637.6 L1529.3,633.7 L1530.8,633.9 L1532.3,633.0 L1533.8,632.5 L1535.3,634.4 L1536.8,635.8 L1538.3,635.8 L1539.8,637.0 L1541.3,637.3 L1542.8,636.5 L1544.3,638.5 L1545.8,636.9 L1547.3,636.8 L1548.8,637.2 L1550.3,637.9 L1551.8,636.0 L1553.3,636.6 L1554.8,637.9 M1579.3,635.8 L1580.8,634.9 L1582.3,633.7 L1583.8,632.3 L1585.3,631.6 L1586.8,631.7 L1588.3,631.3 L1589.8,632.1 L1591.3,630.2 L1592.8,629.8 L1594.3,631.9 L1595.8,631.8 L1597.3,633.4 L1598.8,634.8 L1600.3,634.9 L1601.8,635.4 L1603.3,636.8 L1604.8,634.4 L1606.3,637.0 L1607.8,635.1 M1631.7,638.7 L1633.2,640.2 L1634.7,639.4 L1636.2,639.4 L1637.7,638.7 L1639.2,638.4 L1640.7,639.2 L1642.2,639.2 L1643.7,638.6 L1645.2,637.4 L1646.7,637.6 L1648.2,637.5 L1649.7,639.4 L1651.2,639.0 L1652.7,638.8 L1654.2,638.7 L1655.7,638.4 L1657.2,639.5 L1658.7,637.9 L1660.2,637.9 L1661.7,639.0 L1663.2,638.7 M1689.4,638.1 L1690.9,638.4 L1692.4,636.3 L1693.9,636.0 L1695.4,634.7 L1696.9,636.2 L1698.4,633.4 L1699.9,635.2 L1701.4,636.0 L1702.9,634.0 L1704.4,633.6 L1705.9,634.4 L1707.4,635.1 L1708.9,637.5 L1710.4,638.2 L1711.9,638.6 M1737.6,634.4 L1739.1,635.6 L1740.6,638.1 L1742.1,637.8 L1743.6,637.2 L1745.1,638.9 L1746.6,637.3 L1748.1,637.7 L1749.6,637.6 L1751.1,635.1 L1752.6,636.8 L1754.1,636.1 L1755.6,635.7 L1757.1,634.4 L1758.6,634.9 L1760.1,635.3 L1761.6,636.0 L1763.1,637.4 L1764.6,635.8 L1766.1,638.1 L1767.6,638.9 M1794.2,636.0 L1795.7,636.2 L1797.2,637.9 L1798.7,636.0 L1800.2,637.7 L1801.7,639.4 L1803.2,641.6 L1804.7,639.6 L1806.2,640.5 L1807.7,641.4 L1809.2,641.6 L1810.7,640.6 L1812.2,639.3 L1813.7,638.9 L1815.2,636.4 L1816.7,637.4 L1818.2,636.3 L1819.7,637.7 L1821.2,638.6 M1848.8,628.4 L1850.3,628.6 L1851.8,630.8 L1853.3,631.5 L1854.8,633.2 L1856.3,634.3 L1857.8,635.2 L1859.3,634.4 L1860.8,635.7 L1862.3,637.5 L1863.8,637.2 L1865.3,636.7 L1866.8,636.0 L1868.3,637.0 L1869.8,635.8 L1871.3,634.0 L1872.8,634.7 L1874.3,636.2 L1875.8,633.5 L1877.3,635.0 L1878.8,634.4 L1880.3,635.0 L1881.8,634.8" fill="none" stroke="#ff00ff" stroke-width="11.9" stroke-linejoin="round" stroke-linecap="butt"/>
<path d="M215.0,247.8 L215.5,249.1 L215.9,250.5 L216.4,251.8 L216.8,253.1 L217.3,254.3 L217.8,255.5 L218.2,256.7 M220.3,264.2 L220.5,265.6 L220.8,267.0 L221.0,268.3 L221.3,269.7 L221.5,271.1 L221.8,272.4 M223.0,282.4 L223.1,283.9 L223.2,285.4 L223.3,286.9 L223.4,288.4 L223.5,290.0 L223.6,291.5 M224.4,300.7 L224.5,302.3 L224.7,303.8 L224.8,305.3 L224.9,306.9 L225.1,308.4 L225.2,310.0 M226.2,320.9 L226.3,322.6 L226.5,324.3 L226.6,325.9 L226.8,327.6 L226.9,329.3 L227.0,331.0 M228.1,341.3 L228.3,343.0 L228.5,344.8 L228.6,346.5 L228.8,348.2 L229.0,349.9 L229.2,351.6 M230.4,363.7 L230.6,365.4 L230.8,367.1 L230.9,368.8 L231.1,370.5 L231.3,372.2 L231.5,374.0 M232.8,382.9 L233.1,384.3 L233.3,385.6 L233.5,386.9 L233.8,388.2 L234.0,389.5 L234.2,390.8 L234.5,392.2 M235.9,399.7 L236.1,400.9 L236.3,402.1 L236.6,403.3 L236.8,404.5 L237.0,405.8 L237.1,407.2 M237.6,415.5 L237.7,416.9 L237.8,418.3 L237.9,419.7 L238.0,421.1 L238.1,422.6 L238.2,424.1 L238.3,425.5 M239.4,434.2 L239.7,435.6 L239.9,437.0 L240.2,438.5 L240.4,439.9 L240.7,441.3 L241.0,442.7 M242.6,451.1 L242.9,452.5 L243.2,453.9 L243.5,455.2 L243.8,456.6 L244.0,458.0 L244.3,459.5 L244.6,460.9 M246.4,469.5 L246.7,470.9 L247.0,472.3 L247.3,474.0 L247.6,475.6 L247.9,477.2 L248.2,478.8 M249.9,488.5 L250.2,490.1 L250.5,491.7 L250.8,493.4 L251.1,495.0 L251.4,496.6 L251.7,498.2 L252.0,499.8 M253.8,509.2 L254.1,510.7 L254.3,512.3 L254.6,513.8 L254.9,515.3 L255.1,516.8 L255.4,518.4 M257.0,527.5 L257.3,529.0 L257.5,530.5 L257.8,532.0 L258.1,533.5 L258.3,535.1 L258.6,536.6 L258.8,538.1 M260.4,546.6 L260.6,548.0 L260.9,549.5 L261.2,550.9 L261.4,552.3 L261.7,553.7 L261.9,555.1 M263.7,564.3 L264.0,565.9 L264.3,567.4 L264.6,568.9 L264.9,570.5 L265.2,572.1 L265.5,573.7 L265.8,575.4 M267.5,585.3 L267.8,587.0 L268.1,588.5 L268.5,589.8 L268.9,591.1 L269.2,592.4 L269.6,593.7 M271.8,601.3 L272.1,602.4 L272.5,603.6 L272.9,604.8 L273.3,605.9 L273.8,607.0 L274.2,608.2 L274.7,609.7 M277.4,618.9 L277.7,620.6 L278.0,622.3 L278.2,624.0 L278.5,625.7 L278.8,627.4 L279.1,629.1 M281.2,640.7 L281.6,642.3 L282.0,643.8 L282.3,645.4 L282.7,647.0 L283.1,648.5 L283.5,649.6 M285.7,656.5 L286.0,657.7 L286.3,659.1 L286.6,660.5 L286.9,662.0 L287.1,663.4 L287.4,664.8 M289.3,674.8 L289.6,676.3 L289.8,677.8 L290.1,679.3 L290.4,680.8 L290.6,682.4 L290.9,683.9 M292.3,692.8 L292.5,694.2 L292.6,695.6 L292.8,697.0 L293.0,698.4 L293.1,699.8 L293.3,701.2 M295.9,710.5 L296.6,711.9 L297.2,713.4 L297.8,714.8 L298.4,716.5 L299.1,718.4 L300.1,720.2 M306.0,727.3 L306.9,728.3 L307.8,728.9 L308.7,729.4 L309.6,729.9 L310.5,730.4 L311.4,731.0 L312.3,731.5 L313.4,732.3 L314.4,734.1 L315.5,735.8 M320.8,739.9 L321.9,740.5 L323.1,742.5 L324.2,744.7 L325.3,746.6 L326.4,748.1 L327.5,749.6 L328.6,750.4 L329.8,750.7 M334.0,750.2 L335.4,751.3 L336.8,752.3 L338.2,753.7 L339.7,755.1 L341.1,756.5 L342.5,757.8 M347.9,760.0 L349.2,760.4 L350.6,761.0 L351.9,761.7 L353.3,761.5 L354.6,761.3 L356.0,761.4 L357.3,761.6 M362.2,766.9 L363.4,768.0 L364.7,768.6 L365.9,768.7 L367.1,768.9 L368.3,769.5 L369.6,770.0 L370.8,770.5 M376.0,768.5 L377.3,769.0 L378.6,769.6 L380.0,769.5 L381.3,769.1 L382.7,768.0 L384.0,766.3 L385.4,764.9 M391.0,764.3 L392.5,763.7 L393.9,763.0 L395.3,761.6 L396.7,760.0 L398.2,759.7 L399.6,759.8 M404.0,762.7 L405.5,762.1 L407.0,760.5 L408.4,758.3 L409.9,757.5 L411.4,757.5 L412.8,757.9 M417.9,763.1 L419.2,764.1 L420.5,765.2 L421.7,765.7 L423.0,765.9 L424.3,766.1 L425.5,766.6 L426.8,767.0 M432.1,768.2 L433.4,768.0 L434.7,767.1 L436.1,766.0 L437.4,764.1 L438.8,762.1 L440.1,761.3 L441.4,760.7 M446.2,761.5 L447.4,761.1 L448.6,760.3 L449.8,759.3 L451.0,758.2 L452.2,757.3 L453.4,756.4 L454.7,755.8 M460.3,754.3 L461.6,754.4 L463.0,754.5 L464.4,755.9 L465.8,757.2 L467.1,758.4 L468.5,759.6 M473.8,760.1 L475.1,760.6 L476.4,762.1 L477.7,763.5 L479.0,764.9 L480.3,766.3 L481.6,767.3 L482.9,767.8 M488.5,766.2 L489.9,766.2 L491.3,768.2 L492.8,770.4 L494.2,772.3 L495.6,774.3 L497.0,774.9 M502.8,771.2 L504.3,770.4 L505.7,769.8 L507.1,769.4 L508.6,769.1 L510.0,769.0 L511.5,768.7 M516.7,764.8 L518.0,764.0 L519.3,763.3 L520.6,762.7 L521.9,762.3 L523.2,762.0 L524.5,761.5 M530.0,762.2 L531.4,763.0 L532.8,763.1 L534.2,762.7 L535.7,761.4 L537.1,759.1 L538.5,756.7 M544.1,752.5 L545.5,754.0 L546.9,755.4 L548.2,755.8 L549.6,756.1 L551.0,756.3 L552.4,756.5 M559.0,763.8 L560.3,762.9 L561.6,762.0 L562.9,761.9 L564.2,762.1 L565.6,762.7 L566.9,764.0 M572.5,769.2 L574.0,770.6 L575.5,771.0 L576.9,771.3 L578.4,770.4 L579.9,769.4 L581.4,768.9 M585.9,769.0 L587.3,769.3 L588.8,769.5 L590.3,769.3 L591.7,769.0 L593.2,768.0 L594.6,766.7 M600.5,761.4 L601.9,761.4 L603.4,762.0 L604.9,763.0 L606.4,764.2 L607.9,764.5 L609.4,764.3 M613.9,761.3 L615.4,761.3 L616.9,761.6 L618.3,762.0 L619.8,761.9 L621.3,761.5 L622.8,761.3 M628.7,766.4 L630.2,767.2 L631.6,766.6 L632.9,764.6 L634.3,762.6 L635.7,760.5 L637.1,758.5 M642.7,755.8 L644.1,757.6 L645.5,759.6 L646.9,761.1 L648.3,762.2 L649.7,762.8 L651.1,762.9 M656.8,764.3 L658.2,764.7 L659.6,764.4 L661.1,764.2 L662.5,763.8 L663.9,763.4 L665.3,764.2 M671.1,767.0 L672.6,766.6 L674.1,766.3 L675.6,766.1 L677.1,766.0 L678.6,766.1 M684.6,768.7 L686.0,768.1 L687.3,767.0 L688.7,766.2 L690.0,765.6 L691.3,765.2 L692.7,765.3 M698.1,764.2 L699.5,763.1 L701.0,761.5 L702.4,759.7 L703.9,759.0 L705.4,759.0 L706.8,758.9 M712.5,760.2 L713.9,761.5 L715.4,762.6 L716.9,763.3 L718.4,763.9 L719.8,763.9 L721.3,763.9 M727.2,764.7 L728.7,764.1 L730.2,763.5 L731.7,763.1 L733.2,762.8 L734.7,763.0 M740.7,765.0 L742.2,766.0 L743.7,766.6 L745.2,767.1 L746.7,766.5 L748.1,765.7 L749.5,763.7 M755.1,758.6 L756.5,758.5 L757.9,758.3 L759.3,757.9 L760.7,757.2 L762.1,756.3 L763.5,755.5 M768.3,760.0 L769.4,761.4 L770.6,762.5 L771.7,763.7 L772.9,764.4 L774.0,764.9 L775.2,765.6 L776.3,766.3 L777.6,767.0 M782.9,766.8 L784.3,766.9 L785.6,767.4 L787.0,768.0 L788.3,768.9 L789.7,769.8 L790.8,769.9 M796.7,768.8 L797.9,767.7 L799.1,766.7 L800.2,766.1 L801.6,766.6 L803.0,767.6 L804.4,768.5 M810.1,768.1 L811.5,767.8 L812.9,767.4 L814.3,767.1 L815.7,767.1 L817.1,766.4 L818.6,766.3 M824.3,765.1 L825.7,765.3 L827.1,765.6 L828.5,766.1 L830.0,766.8 L831.5,767.2 L833.0,766.9 M838.9,765.7 L840.4,766.3 L841.9,766.6 L843.3,766.7 L844.8,767.0 L846.3,767.3 M852.2,768.8 L853.7,768.9 L855.1,768.8 L856.6,768.7 L858.1,768.7 L859.6,768.6 L861.0,768.4 M866.9,768.8 L868.4,769.6 L869.8,770.8 L871.3,772.2 L872.8,774.0 L874.1,774.9 L875.5,774.0 M880.9,767.8 L882.2,767.3 L883.5,766.9 L884.9,766.5 L886.2,766.0 L887.7,765.4 L889.2,764.9 M895.0,763.0 L896.4,761.8 L897.9,760.6 L899.4,760.9 L900.8,761.2 L902.3,761.7 L903.7,761.9 M908.8,758.2 L910.1,757.4 L911.4,757.5 L912.7,757.6 L914.0,757.1 L915.3,756.4 L916.6,756.0 M922.7,758.2 L923.9,759.4 L925.1,760.7 L926.4,762.3 L927.6,763.8 L928.8,765.5 L930.0,767.2 L931.3,768.3 M936.4,761.2 L937.7,759.8 L939.0,759.0 L940.3,758.5 L941.6,759.2 L943.0,760.8 L944.5,762.2 M950.5,761.3 L952.0,760.8 L953.5,761.1 L955.0,761.4 L956.5,762.2 L957.7,761.9 L958.9,761.5 M964.9,755.8 L966.1,754.6 L967.3,753.6 L968.5,752.9 L969.8,752.5 L971.1,752.8 L972.5,752.9 M977.8,756.3 L979.2,757.7 L980.5,758.1 L981.9,758.5 L983.2,758.3 L984.5,758.0 L985.9,757.9 L987.3,757.9 M992.8,762.2 L994.2,763.9 L995.6,765.3 L997.0,766.6 L998.3,767.3 L999.7,768.1 L1001.1,768.7 M1006.7,770.0 L1008.0,770.1 L1009.4,770.5 L1010.8,771.3 L1012.2,772.1 L1013.6,771.6 L1015.1,771.0 M1020.9,769.9 L1022.3,769.9 L1023.7,769.8 L1025.2,768.8 L1026.6,767.5 L1028.1,766.5 L1029.5,765.6 M1035.2,766.6 L1036.6,765.9 L1038.0,764.3 L1039.4,762.8 L1040.8,761.5 L1042.2,760.3 L1043.5,760.1 M1048.9,757.0 L1050.2,755.4 L1051.6,754.5 L1052.9,754.7 L1054.3,754.8 L1055.6,755.4 L1056.8,756.9 M1061.8,760.4 L1063.0,761.8 L1064.3,762.4 L1065.5,763.0 L1066.8,763.2 L1068.1,763.0 L1069.6,762.0 L1071.1,761.3 M1077.0,760.0 L1078.5,761.0 L1080.0,762.0 L1081.5,762.6 L1082.9,762.3 L1084.3,762.8 M1090.0,765.4 L1091.4,765.6 L1092.8,765.9 L1094.2,765.3 L1095.7,764.6 L1097.1,763.6 L1098.5,762.5 M1104.4,765.7 L1105.9,765.7 L1107.4,765.1 L1108.9,765.0 L1110.4,765.2 L1111.3,764.4 L1112.2,763.7 L1113.2,763.4 M1119.0,762.9 L1120.5,763.0 L1122.0,764.3 L1123.4,765.7 L1124.9,767.1 L1126.4,768.3 M1132.3,770.0 L1133.8,770.2 L1135.3,770.1 L1136.8,768.4 L1138.3,766.7 L1139.7,764.9 L1141.2,763.3 M1146.9,767.1 L1148.3,768.7 L1149.7,770.2 L1151.1,771.0 L1152.5,771.5 L1153.8,771.4 L1155.0,770.1 M1159.8,765.4 L1161.0,764.4 L1162.2,763.4 L1163.4,762.3 L1164.6,761.2 L1165.8,759.9 L1167.1,759.3 L1168.6,759.1 M1174.2,759.5 L1175.6,760.5 L1177.0,761.4 L1178.5,761.9 L1179.9,762.4 L1181.3,763.4 L1182.7,764.3 M1188.6,770.2 L1190.0,771.9 L1191.5,773.6 L1192.9,773.8 L1194.3,772.9 L1195.3,771.0 L1196.2,768.8 L1197.2,766.7 M1202.1,760.8 L1203.1,759.5 L1204.1,758.2 L1205.0,756.9 L1206.0,755.6 L1207.0,754.4 L1207.8,755.8 L1208.6,757.2 L1209.3,758.6 L1210.1,759.9 L1210.9,760.2 L1211.7,760.6 M1217.1,763.5 L1218.4,764.3 L1219.8,764.9 L1221.1,765.4 L1222.4,765.6 L1223.8,765.2 L1225.1,764.6 M1230.5,759.5 L1231.8,759.3 L1233.2,759.4 L1234.5,759.1 L1235.9,758.0 L1237.2,757.0 L1238.6,756.8 M1243.8,757.0 L1244.9,757.6 L1245.9,758.2 L1247.0,758.8 L1248.0,759.4 L1249.1,760.1 L1250.2,761.4 L1251.2,762.8 L1252.3,764.0 L1253.3,765.1 M1258.8,763.4 L1260.3,763.4 L1261.7,763.7 L1263.1,764.5 L1264.5,764.9 L1265.9,764.8 L1267.3,764.6 M1272.7,762.6 L1274.1,763.5 L1275.4,764.8 L1276.7,765.7 L1278.1,766.4 L1279.4,767.1 L1280.8,767.7 M1286.5,770.8 L1288.0,771.3 L1289.4,771.0 L1290.8,770.7 L1292.2,770.0 L1293.7,769.0 L1295.2,768.1 M1301.1,771.7 L1302.6,773.8 L1304.1,773.9 L1305.5,773.2 L1306.9,771.6 L1308.2,769.9 L1309.5,768.7 M1314.9,768.7 L1316.3,768.0 L1317.6,767.1 L1318.9,766.1 L1320.3,765.0 L1321.8,765.2 L1323.3,766.1 M1327.8,768.0 L1329.3,767.7 L1330.8,767.7 L1332.3,767.8 L1333.8,768.4 L1335.3,769.3 L1336.7,769.2 M1342.5,764.6 L1343.9,763.7 L1345.4,763.1 L1346.8,763.2 L1348.2,763.3 L1349.7,763.4 L1351.1,764.2 M1356.4,767.8 L1357.8,768.8 L1359.1,769.9 L1360.5,770.9 L1361.8,771.8 L1363.2,772.6 L1364.5,772.8 M1370.4,768.3 L1371.9,767.3 L1373.4,768.5 L1374.9,769.8 L1376.4,770.8 L1377.9,771.9 L1379.4,771.8 M1383.9,770.7 L1385.4,769.9 L1386.9,769.0 L1388.4,768.2 L1389.9,767.4 L1391.3,767.6 L1392.8,767.9 M1398.7,768.8 L1400.2,767.3 L1401.7,765.7 L1403.2,764.7 L1404.6,763.9 L1406.1,764.4 L1407.6,765.4 M1412.0,767.2 L1413.5,766.5 L1415.0,766.0 L1416.5,765.5 L1418.0,766.1 L1419.5,767.4 L1421.0,768.3 M1427.0,768.3 L1428.4,768.4 L1429.8,768.8 L1431.3,769.2 L1432.7,769.5 L1434.1,769.7 L1435.6,769.8 M1439.9,769.6 L1441.3,770.1 L1442.7,771.2 L1444.2,772.3 L1445.6,772.5 L1447.0,772.5 L1448.4,771.3 L1449.7,770.1 M1453.9,765.7 L1455.3,765.9 L1456.8,766.5 L1458.3,767.2 L1459.8,767.1 L1461.3,766.3 L1462.8,765.9 M1468.5,768.2 L1469.8,768.5 L1471.2,768.7 L1472.5,768.6 L1473.8,768.5 L1475.2,769.4 L1476.5,770.4 M1482.2,775.0 L1483.7,774.9 L1485.2,774.3 L1486.7,773.9 L1488.1,773.8 L1489.6,774.0 L1491.1,774.7 M1496.6,773.0 L1497.7,770.8 L1498.7,769.2 L1499.8,767.8 L1500.9,766.4 L1501.9,765.6 L1503.0,765.0 L1504.0,764.3 L1505.1,763.1 M1510.5,761.7 L1512.0,762.2 L1513.4,762.5 L1514.9,762.1 L1516.3,761.6 L1517.8,760.9 L1519.2,760.2 M1524.6,761.2 L1525.9,761.8 L1527.2,762.5 L1528.5,763.0 L1529.8,763.2 L1531.1,763.4 L1532.4,764.3 L1533.7,765.2 M1537.8,767.8 L1539.1,767.0 L1540.5,766.1 L1541.9,765.0 L1543.3,764.1 L1544.7,763.9 L1546.1,763.8 L1547.5,763.9 M1552.6,761.6 L1553.9,761.0 L1555.2,760.4 L1556.4,759.8 L1557.8,759.7 L1559.3,759.2 L1560.8,758.5 M1566.7,759.7 L1568.2,761.1 L1569.7,762.7 L1571.0,764.1 L1572.3,765.4 L1573.6,766.4 L1574.9,766.8 M1580.1,767.3 L1581.4,767.9 L1582.7,768.7 L1584.1,769.4 L1585.5,769.9 L1587.0,770.2 L1588.4,770.7 M1593.9,772.0 L1594.9,770.3 L1596.0,768.5 L1597.0,766.8 L1598.0,765.6 L1599.0,764.4 L1600.0,763.3 L1601.1,762.9 L1602.1,762.4 L1603.1,762.1 M1609.1,762.5 L1610.6,760.5 L1612.1,758.5 L1613.6,756.3 L1615.1,754.2 L1616.5,753.2 M1622.1,755.0 L1623.2,756.3 L1624.4,757.5 L1625.5,758.3 L1626.6,759.2 L1627.7,760.2 L1628.8,761.3 L1629.9,762.4 L1631.0,763.0 M1635.9,765.4 L1637.4,765.6 L1638.9,765.7 L1640.4,765.5 L1641.9,765.3 L1643.4,766.4 L1644.9,767.6 M1650.9,763.5 L1652.4,763.2 L1653.9,763.0 L1655.4,764.3 L1656.9,765.7 L1658.4,765.6 M1664.4,764.0 L1665.9,764.4 L1667.4,764.9 L1668.9,765.4 L1670.4,765.9 L1671.9,766.3 L1673.4,766.9 M1679.1,771.0 L1680.6,772.3 L1682.0,773.0 L1683.4,773.4 L1684.8,773.6 L1686.2,773.6 L1687.6,773.8 M1691.9,774.1 L1693.3,773.5 L1694.7,771.8 L1696.1,770.2 L1697.5,768.7 L1698.9,767.3 L1700.3,767.3 M1706.0,767.9 L1707.4,767.7 L1708.9,767.1 L1710.3,766.2 L1711.7,765.4 L1713.1,764.5 L1714.6,764.1 M1720.3,765.4 L1721.8,764.8 L1723.3,764.3 L1724.7,763.9 L1726.2,763.6 L1727.7,763.9 L1729.1,764.2 M1735.0,765.5 L1736.5,766.1 L1737.8,765.8 L1739.2,765.9 L1740.6,766.1 L1742.0,766.1 L1743.4,766.0 M1748.9,760.9 L1750.3,759.8 L1751.5,759.3 L1752.8,758.8 L1754.1,758.0 L1755.4,757.1 L1756.7,755.8 M1762.0,751.5 L1763.5,752.1 L1764.9,752.6 L1766.4,752.7 L1767.8,752.8 L1769.3,752.1 L1770.7,751.2 M1776.4,749.0 L1777.8,750.4 L1779.2,752.3 L1780.6,753.9 L1781.9,755.3 L1783.3,756.4 L1784.7,756.5 M1790.2,757.1 L1791.1,758.0 L1792.1,758.8 L1793.1,759.5 L1794.0,760.1 L1795.0,760.8 L1795.9,761.9 L1796.9,763.0 L1797.9,764.2 L1798.8,765.6 M1805.2,768.3 L1806.7,767.5 L1808.1,767.0 L1809.6,766.6 L1811.1,767.6 L1812.6,769.0 M1818.4,767.6 L1819.9,766.6 L1821.3,765.9 L1822.8,765.6 L1824.2,765.6 L1825.7,765.2 L1827.2,764.3 M1832.7,764.3 L1834.0,765.7 L1835.3,766.7 L1836.7,767.7 L1838.0,768.6 L1839.3,769.4 L1840.6,770.0 M1845.8,770.7 L1847.0,770.1 L1848.3,769.6 L1849.6,769.1 L1850.8,768.5 L1852.1,767.8 L1853.3,766.3 L1854.6,764.8 M1861.0,759.2 L1862.4,759.6 L1863.9,760.1 L1865.4,761.9 L1866.9,763.8 L1868.4,764.6 M1874.3,765.0 L1875.8,764.6 L1877.3,763.6 L1878.7,762.4 L1880.2,762.5 L1881.7,762.9 L1883.2,764.0 M1889.1,760.6 L1890.6,757.3 L1892.1,755.6 L1893.6,754.5 L1895.1,756.0 L1896.6,758.4" fill="none" stroke="#fdb000" stroke-width="11.9" stroke-linejoin="round" stroke-linecap="butt"/>
<path d="M224.0,248.8 L224.6,249.8 L225.2,250.8 L225.8,251.8 L226.4,252.4 L227.0,253.0 L227.7,253.5 L228.3,254.1 L228.9,254.6 L229.5,255.1 L230.1,255.9 L230.8,257.9 L231.4,259.9 L232.0,261.8 L232.6,263.8 L233.2,265.7 L233.6,267.6 L234.1,269.4 L234.6,270.6 L235.0,271.9 L235.5,273.1 L235.9,274.4 L236.4,275.7 L236.8,276.9 L237.3,278.2 M239.8,288.9 L240.1,290.5 L240.5,292.2 L240.8,293.8 L241.1,295.4 L241.5,297.0 L241.8,298.6 L242.2,300.0 L242.5,301.1 L242.9,302.2 L243.2,303.4 L243.5,304.5 L243.8,305.7 M245.6,312.6 L245.9,313.7 L246.2,315.3 L246.5,317.1 L246.8,318.9 L247.1,320.7 L247.4,322.5 L247.7,324.3 L247.9,326.0 L248.1,327.7 L248.3,329.5 L248.5,331.2 L248.7,332.9 L249.0,334.6 L249.2,336.3 L249.4,338.0 L249.6,339.7 L249.8,341.4 L250.0,343.1 L250.2,344.6 L250.4,346.1 L250.6,347.6 L250.9,349.1 L251.1,350.6 L251.3,352.0 L251.6,353.5 M253.2,363.9 L253.5,365.4 L253.7,366.9 L253.9,368.3 L254.2,370.0 L254.4,371.6 L254.7,373.3 L254.9,375.0 L255.1,376.6 L255.4,378.3 L255.6,380.0 L255.8,381.6 L256.0,383.3 M257.4,393.3 L257.7,395.0 L257.9,396.6 L258.1,398.1 L258.4,399.4 L258.6,400.7 L258.8,402.0 L259.1,403.3 L259.3,404.6 L259.5,405.9 L259.7,407.3 L260.0,408.6 L260.2,409.9 L260.4,411.2 L260.7,412.5 L260.9,413.8 L261.1,415.1 L261.4,416.4 L261.6,417.7 L261.8,419.1 L262.0,420.4 L262.3,421.9 L262.5,423.4 L262.7,424.9 L263.0,426.4 L263.2,427.9 M264.8,438.5 L265.0,440.0 L265.2,441.5 L265.5,443.0 L265.7,444.5 L265.9,446.0 L266.1,447.4 L266.3,448.6 L266.5,449.9 L266.7,451.1 L266.9,452.4 L267.1,453.6 L267.3,454.9 M268.5,462.4 L268.7,463.6 L268.9,464.9 L269.1,466.1 L269.3,467.4 L269.5,468.6 L269.7,469.9 L269.9,471.1 L270.1,472.8 L270.3,474.8 L270.5,476.7 L270.7,478.6 L270.9,480.6 L271.2,482.5 L271.4,484.5 L271.6,486.5 L271.8,488.4 L272.0,490.4 L272.2,492.3 L272.5,494.3 L272.7,496.3 L272.9,498.2 L273.1,500.2 L273.3,502.2 L273.5,504.1 L273.7,506.1 M275.3,513.8 L275.6,514.6 L275.8,515.4 L276.1,516.2 L276.4,517.1 L276.6,517.9 L276.9,518.7 L277.2,519.5 L277.5,520.3 L277.7,521.1 L278.0,521.9 L278.3,523.8 L278.5,525.8 M280.0,537.3 L280.2,539.2 L280.4,541.1 L280.7,543.0 L280.9,544.8 L281.1,546.7 L281.4,548.6 L281.6,550.5 L281.8,552.4 L282.0,554.2 L282.3,555.5 L282.5,556.8 L282.7,558.1 L283.0,559.3 L283.3,560.5 L283.6,561.8 L283.9,563.0 L284.1,564.2 L284.4,565.5 L284.7,566.7 L285.0,567.9 L285.3,569.1 L285.6,570.4 L285.9,571.6 L286.1,572.9 L286.4,574.3 M288.4,583.9 L288.7,585.3 L289.0,586.7 L289.3,588.1 L289.6,589.5 L289.8,590.9 L290.0,592.3 L290.2,593.8 L290.4,595.3 L290.6,596.8 L290.8,598.4 L291.0,599.9 L291.3,601.4 M292.7,612.0 L292.9,613.5 L293.2,615.0 L293.4,616.5 L293.6,618.0 L293.8,619.5 L294.0,621.0 L294.2,622.5 L294.4,624.0 L294.6,625.5 L294.8,627.0 L295.1,628.5 L295.3,629.9 L295.4,631.4 L295.6,632.9 L295.8,634.4 L296.0,635.9 L296.1,637.4 L296.3,638.9 L296.5,640.4 L296.7,641.9 L296.8,643.3 L297.0,644.8 L297.2,646.3 L297.4,647.8 M298.6,658.6 L298.8,660.2 L299.0,661.8 L299.1,663.4 L299.3,665.0 L299.5,666.6 L299.7,668.2 L299.9,669.8 L300.1,671.4 L300.3,673.0 L300.5,674.6 L300.7,676.3 L300.9,677.9 M302.3,688.9 L302.5,690.3 L302.7,691.8 L302.9,693.2 L303.1,694.6 L303.3,696.0 L303.5,697.5 L303.7,698.9 L303.9,700.3 L304.1,701.8 L304.3,703.2 L304.5,704.6 L304.7,706.1 L304.8,707.5 L305.0,708.9 L305.2,710.4 L305.4,711.8 L305.6,713.2 L305.8,714.7 L305.9,716.1 L306.1,717.7 L306.3,719.3 L306.5,721.0 L306.7,722.7 L306.9,724.3 M308.1,736.0 L308.3,737.6 L308.5,739.3 L308.7,740.9 L308.9,742.6 L309.0,744.3 L309.2,745.9 L309.4,747.6 L309.6,749.2 L309.8,750.9 L309.9,752.6 L310.1,753.8 L310.3,755.0 M311.6,762.9 L311.8,764.1 L311.9,765.2 L312.1,766.3 L312.3,767.5 L312.5,768.6 L312.7,769.7 L312.8,770.9 L313.0,772.0 L313.2,773.1 L313.4,774.3 L313.6,775.4 L313.8,776.5 L314.1,777.6 L314.5,779.4 L314.8,781.3 L315.1,783.1 L315.5,784.9 L315.8,786.7 L316.1,788.6 L316.4,790.4 L316.7,792.1 L316.9,793.9 L317.2,795.6 L317.4,797.3 M319.1,807.8 L319.3,809.1 L319.6,810.5 L319.8,811.8 L320.1,813.2 L320.3,814.5 L320.5,815.9 L320.8,817.2 L321.0,818.6 L321.3,819.9 L321.5,821.3 L321.7,822.7 L322.0,824.0 M323.7,836.0 L323.9,837.7 L324.2,839.5 L324.4,841.2 L324.7,842.9 L325.1,844.7 L325.5,846.6 L326.0,848.5 L326.4,849.2 L326.9,849.9 L327.4,850.5 L327.8,851.1 L328.5,851.2 L329.5,850.7 L330.4,851.5 L331.4,853.6 L332.5,855.6 L334.0,857.3 L335.5,858.0 L337.0,858.6 L338.4,858.7 L339.9,857.3 L341.4,855.9 L342.9,856.8 L344.4,858.7 M347.4,859.9 L348.8,859.0 L350.3,858.3 L351.8,858.8 L353.3,859.3 L354.8,859.4 L356.2,859.3 L357.7,859.5 L359.2,858.3 L360.7,856.8 L362.2,855.5 L363.7,855.9 M366.6,856.8 L368.1,857.5 L369.6,858.3 L370.9,859.4 L372.0,861.1 L373.1,862.7 L374.1,864.3 L375.2,865.5 L376.2,866.6 L377.3,867.7 L378.4,868.5 L379.3,868.7 L380.1,869.3 L380.9,869.8 L381.7,870.4 L382.4,871.4 L383.2,872.8 L384.0,874.1 L384.7,875.4 L385.5,876.8 L386.3,875.5 L387.1,874.2 L387.8,872.8 L388.6,871.4 L389.4,870.0 L390.2,868.7 L390.9,867.5 L391.7,866.3 L392.3,865.0 L392.8,863.7 L393.4,862.4 L393.9,861.0 L394.4,859.7 L394.9,858.4 L395.5,857.1 L396.0,855.8 M398.8,850.5 L399.8,851.7 L400.7,853.0 L401.6,854.2 L402.6,856.1 L403.5,858.5 L404.4,860.9 L405.4,863.3 L406.3,864.8 L407.3,864.3 L408.5,863.5 L409.7,862.6 L410.9,863.2 L412.0,864.3 L413.2,865.4 L414.4,866.6 L415.5,868.0 M417.9,870.7 L419.4,869.2 L420.9,867.7 L422.4,866.6 L423.8,866.8 L425.3,867.0 L426.8,867.2 L428.2,867.2 L429.7,867.2 L431.2,867.6 L432.7,867.9 L434.1,868.1 L435.6,866.0 L437.1,863.9 L438.5,863.3 L439.9,864.8 L441.2,866.1 L442.5,866.1 L443.7,864.1 L445.0,862.0 L446.3,860.3 L447.6,859.9 M450.2,859.5 L451.7,860.1 L453.2,860.7 L454.7,860.9 L456.2,860.8 L457.7,860.6 L459.2,860.9 L460.7,861.2 L462.2,861.4 L463.5,860.0 L464.8,858.5 L466.0,857.1 M469.8,854.1 L471.0,853.5 L472.3,852.9 L473.5,852.3 L474.8,851.0 L475.9,850.3 L477.0,850.5 L478.0,850.8 L479.1,853.3 L480.2,855.7 L481.2,858.2 L482.2,860.2 L482.9,860.6 L483.7,860.9 L484.5,861.3 L485.2,861.7 L486.0,862.1 L486.8,863.1 L487.6,864.2 L488.4,865.0 L489.9,864.3 L491.4,866.8 L492.9,869.5 L494.4,870.9 L495.8,868.8 L497.3,866.6 L498.8,865.0 M501.8,862.8 L503.3,864.9 L504.8,867.6 L506.3,869.5 L507.8,867.5 L509.3,865.6 L510.8,865.3 L512.3,866.5 L513.8,867.8 L515.3,866.3 L516.7,864.4 L518.2,862.8 M521.2,863.3 L522.7,862.8 L524.1,861.3 L525.6,859.8 L527.1,859.1 L528.6,858.6 L530.0,858.2 L531.5,858.8 L533.0,859.4 L534.5,859.9 L536.0,860.5 L537.4,861.0 L538.9,861.5 L540.4,862.2 L541.9,863.0 L543.4,864.4 L544.9,865.9 L546.4,866.0 L547.9,863.0 L549.4,859.9 M553.9,863.2 L555.4,861.7 L556.9,860.1 L558.3,858.8 L559.8,859.0 L561.3,859.1 L562.8,858.4 L564.3,857.0 L565.7,855.8 L567.2,855.8 L568.7,856.1 M573.1,858.1 L574.6,858.6 L576.1,858.5 L577.6,858.4 L579.0,859.4 L580.4,860.9 L581.8,862.5 L583.2,862.7 L584.6,862.7 L586.0,862.7 L587.3,864.8 L588.7,866.9 L590.1,868.9 L591.5,868.5 L592.9,868.2 L594.3,868.0 L595.7,868.6 L597.1,869.2 L598.5,870.0 L599.9,871.0 L601.3,871.4 M605.6,869.0 L607.0,868.1 L608.4,867.1 L609.9,866.2 L611.3,865.6 L612.7,865.3 L614.2,865.6 L615.7,865.9 L617.1,866.1 L618.6,866.8 L620.1,868.2 M623.9,868.5 L624.9,867.2 L625.8,865.9 L626.7,864.5 L627.7,863.1 L628.6,861.7 L629.5,860.3 L630.5,859.1 L631.4,858.2 L632.9,858.7 L634.3,858.9 L635.8,857.9 L637.3,857.0 L638.8,857.1 L640.3,858.3 L641.8,859.4 L643.3,858.3 L644.7,856.9 L646.2,856.0 L647.6,858.8 L649.0,861.6 L650.4,863.4 L651.9,862.8 L653.3,862.3 M656.1,862.9 L657.5,863.5 L658.9,864.3 L660.3,865.2 L661.7,866.1 L663.1,866.3 L664.5,865.5 L665.8,864.4 L667.1,863.4 L668.5,862.6 L669.8,861.7 L671.2,862.0 L672.5,862.5 M675.2,861.7 L676.5,860.2 L678.0,859.3 L679.5,858.3 L681.0,857.4 L682.5,857.3 L684.0,858.5 L685.5,859.7 L687.0,858.7 L688.5,856.8 L690.0,855.0 L691.5,858.0 L693.0,861.0 L694.5,862.5 L696.0,861.2 L697.5,859.8 L699.0,859.6 L700.4,860.1 L701.9,860.5 L703.4,862.6 L704.9,864.8 M707.8,865.9 L709.2,865.3 L710.6,864.1 L712.1,861.9 L713.5,860.2 L714.8,860.4 L716.2,861.4 L717.6,862.4 L719.0,863.4 L720.4,864.4 L721.7,865.3 L723.1,866.4 M727.3,867.8 L728.7,866.6 L730.2,865.5 L731.7,865.9 L733.2,866.4 L734.6,867.1 L736.1,868.3 L737.6,869.5 L739.1,869.3 L740.6,868.7 L742.1,868.1 L743.5,868.5 L745.0,868.7 L746.5,868.7 L748.0,868.3 L749.5,867.9 L750.9,866.7 L752.4,864.9 L753.9,863.1 L755.4,863.0 M759.7,860.5 L761.2,858.6 L762.7,858.3 L764.1,860.0 L765.6,861.7 L767.0,862.9 L768.5,863.9 L769.8,864.5 L771.2,862.3 L772.5,859.7 L773.8,857.1 L775.2,857.9 M777.9,860.2 L779.2,859.7 L780.5,860.3 L781.8,860.9 L783.1,860.9 L784.4,860.9 L785.6,860.9 L786.9,861.4 L788.2,862.3 L789.5,863.1 L790.8,862.8 L792.2,862.2 L793.5,861.6 L794.8,860.5 L796.2,859.1 L797.5,857.7 L798.9,857.0 L800.2,856.8 L801.6,856.6 L802.9,856.4 L804.3,857.2 L805.7,857.9 L807.1,859.0 M811.3,861.9 L812.7,862.6 L814.1,863.0 L815.6,861.8 L817.1,860.5 L818.6,860.4 L820.1,861.9 L821.6,863.4 L823.1,862.9 L824.6,861.6 L826.1,860.4 M830.5,862.3 L832.0,862.9 L833.5,863.5 L835.0,863.5 L836.5,863.2 L838.0,863.0 L839.5,863.0 L841.0,863.0 L842.5,862.7 L843.9,862.6 L845.4,862.6 L846.8,861.9 L848.2,860.8 L849.7,859.7 L851.1,859.1 L852.6,858.6 L854.0,858.1 L855.4,858.0 L856.9,858.3 L858.4,859.1 M861.4,861.6 L862.9,861.7 L864.3,861.0 L865.8,860.3 L867.3,861.9 L868.8,863.9 L870.3,865.3 L871.7,864.1 L873.2,863.2 L874.6,861.7 L876.0,859.5 L877.4,857.3 M881.7,863.2 L883.1,865.5 L884.6,867.7 L886.1,869.5 L887.6,868.2 L889.0,866.9 L890.5,866.0 L892.0,865.8 L893.5,865.6 L895.0,865.4 L896.5,865.1 L898.0,864.9 L899.5,867.0 L901.0,869.1 L902.5,870.5 L903.8,869.9 L905.1,868.8 L906.3,867.8 L907.6,866.7 L908.8,865.6 L910.1,864.5 M913.8,861.5 L915.1,861.3 L916.3,861.6 L917.7,863.0 L919.1,863.3 L920.5,863.4 L921.9,863.5 L923.2,862.6 L924.6,861.5 L926.0,860.4 L927.4,862.6 L928.7,864.8 M933.1,866.2 L934.6,865.7 L936.1,865.5 L937.6,865.2 L939.1,865.7 L940.6,866.5 L942.1,867.2 L943.6,866.6 L945.1,865.9 L946.5,864.4 L947.8,861.3 L949.2,858.3 L950.5,857.5 L951.9,860.4 L953.2,863.3 L954.5,864.6 L955.9,863.6 L957.2,862.5 L958.6,861.2 L960.0,860.3 L961.5,859.4 M964.5,859.2 L966.0,859.2 L967.4,859.9 L968.9,860.6 L970.4,860.8 L971.9,859.7 L973.4,858.6 L974.8,859.3 L976.2,861.2 L977.5,863.1 L978.9,863.8 L980.3,864.0 M984.4,865.0 L985.8,865.5 L987.2,865.7 L988.6,865.8 L990.1,865.6 L991.5,866.0 L993.0,866.4 L994.5,867.3 L996.0,869.1 L997.5,870.9 L999.0,871.8 L1000.4,872.2 L1001.9,872.6 L1003.4,872.1 L1004.2,870.7 L1004.9,869.0 L1005.6,867.3 L1006.2,865.7 L1006.9,864.1 L1007.6,862.6 L1008.3,861.0 L1008.9,859.4 L1009.6,857.9 L1010.4,856.8 L1011.6,857.2 L1012.7,857.5 M1016.3,861.9 L1017.4,863.9 L1018.6,865.7 L1019.8,867.2 L1021.0,868.8 L1022.4,869.2 L1023.8,867.1 L1025.1,865.0 L1026.5,864.8 L1027.9,867.7 L1029.3,870.5 L1030.7,870.8 L1032.0,868.1 M1035.1,862.1 L1036.2,862.2 L1037.3,862.3 L1038.3,862.2 L1039.4,861.6 L1040.4,861.0 L1041.5,860.4 L1042.6,858.9 L1043.8,856.8 L1045.0,854.7 L1046.2,852.7 L1047.4,851.7 L1048.6,850.7 L1049.8,849.7 L1051.0,850.2 L1052.3,852.3 L1053.5,854.4 L1054.8,856.0 L1056.0,857.4 L1057.3,858.7 L1058.5,859.4 L1059.8,859.3 L1061.0,859.1 L1062.3,859.4 L1063.5,861.6 L1064.6,863.8 M1067.8,866.3 L1068.8,866.0 L1069.9,865.8 L1070.9,868.1 L1072.0,870.8 L1073.4,872.5 L1074.8,872.2 L1076.2,870.3 L1077.7,868.5 L1079.1,867.7 L1080.5,867.4 L1081.9,867.0 L1083.4,866.8 M1086.2,866.3 L1087.5,865.5 L1088.9,864.7 L1090.3,864.2 L1091.7,864.8 L1093.1,865.5 L1094.4,865.8 L1095.8,865.5 L1097.2,865.2 L1098.6,864.3 L1099.9,862.3 L1101.4,861.3 L1102.8,860.8 L1104.3,860.6 L1105.7,860.4 L1107.2,860.0 L1108.6,859.5 L1110.0,859.1 L1111.5,859.9 L1112.9,860.7 L1114.4,861.5 L1115.8,862.0 M1118.6,862.0 L1120.1,861.5 L1121.5,860.9 L1122.9,860.4 L1124.3,860.0 L1125.8,859.6 L1127.2,859.1 L1128.7,859.0 L1130.2,859.1 L1131.7,859.5 L1133.2,859.9 L1134.7,859.5 M1137.7,856.2 L1139.2,856.0 L1140.7,856.3 L1142.2,856.8 L1143.6,859.0 L1144.9,861.3 L1146.2,863.4 L1147.6,863.8 L1148.9,864.3 L1150.3,864.5 L1151.6,864.1 L1153.0,863.7 L1154.3,863.8 L1155.6,865.9 L1157.0,866.8 L1158.4,866.8 L1159.8,864.6 L1161.2,862.4 L1162.5,861.0 L1163.9,860.7 L1165.3,860.5 L1166.7,859.5 M1170.8,856.1 L1171.9,858.9 L1173.1,861.6 L1174.3,863.8 L1175.5,864.2 L1176.6,864.5 L1177.8,864.9 L1179.0,866.3 L1180.1,868.0 L1181.3,869.7 L1182.8,869.7 L1184.3,869.1 L1185.8,868.5 M1190.2,866.3 L1191.7,866.1 L1193.2,865.9 L1194.7,866.2 L1196.2,867.1 L1197.7,868.1 L1199.2,867.3 L1200.7,866.1 L1202.2,865.1 L1203.7,865.1 L1205.2,865.1 L1206.7,865.2 L1208.2,865.4 L1209.7,865.6 L1211.2,866.1 L1212.4,865.9 L1213.7,865.6 L1214.9,865.0 L1216.2,864.2 L1217.4,863.5 L1218.6,863.1 M1221.1,862.9 L1222.4,862.1 L1223.6,859.8 L1225.0,858.2 L1226.4,857.9 L1227.9,859.5 L1229.3,861.1 L1230.7,861.3 L1232.1,860.2 L1233.5,859.1 L1235.0,859.8 L1236.4,861.3 L1237.8,862.3 M1240.7,860.9 L1242.2,860.4 L1243.7,861.4 L1245.1,862.4 L1246.6,862.5 L1248.0,861.2 L1249.5,859.9 L1250.9,858.6 L1252.4,857.3 L1253.8,856.0 L1255.3,857.1 L1256.7,858.4 L1258.2,859.5 L1259.6,859.7 L1261.1,859.9 L1262.5,860.0 L1263.9,859.9 L1265.4,859.7 L1266.8,859.9 L1268.3,860.3 L1269.7,860.6 M1272.7,859.5 L1274.2,859.5 L1275.7,862.8 L1277.2,866.1 L1278.7,866.6 L1280.2,864.3 L1281.7,862.0 L1283.2,862.0 L1284.7,862.5 L1286.2,862.7 L1287.7,860.6 L1289.2,858.5 M1292.1,857.1 L1293.6,857.0 L1295.1,857.4 L1296.6,858.0 L1297.9,859.4 L1299.1,860.3 L1300.4,861.2 L1301.6,862.0 L1302.9,863.3 L1304.1,864.9 L1305.4,866.4 L1306.6,867.0 L1307.8,866.4 L1309.1,865.9 L1310.3,865.0 L1311.5,865.1 L1312.6,865.3 L1313.8,865.4 L1315.0,865.2 L1316.2,864.9 L1317.3,864.7 L1318.5,863.4 L1319.7,860.8 L1320.8,859.2 M1324.0,862.8 L1325.0,865.0 L1326.1,867.0 L1327.2,866.9 L1328.2,866.8 L1329.3,866.7 L1330.3,867.2 L1331.5,868.6 L1333.0,869.3 L1334.4,869.7 L1335.9,869.3 L1337.3,868.9 L1338.8,869.1 L1340.2,869.8 M1344.5,866.4 L1346.0,864.0 L1347.4,864.9 L1348.9,865.9 L1350.4,866.9 L1351.9,867.9 L1353.4,868.9 L1354.8,868.4 L1356.3,866.7 L1357.8,865.0 L1359.3,865.6 L1360.6,865.9 L1362.0,866.3 L1363.4,865.0 L1364.8,863.7 L1366.1,862.5 L1367.5,862.0 L1368.9,861.6 L1370.3,861.3 L1371.7,861.9 L1373.0,862.4 M1376.0,862.6 L1377.4,862.4 L1378.9,863.2 L1380.4,864.7 L1381.9,866.1 L1383.4,865.0 L1384.9,863.7 L1386.3,862.7 L1387.8,862.4 L1389.2,862.6 L1390.4,863.2 L1391.5,863.1 M1395.0,863.7 L1396.2,864.6 L1397.4,865.4 L1398.6,866.4 L1399.8,867.4 L1401.3,867.5 L1402.8,866.3 L1404.3,864.0 L1405.7,861.6 L1407.2,863.8 L1408.7,867.0 L1410.2,869.6 L1411.7,867.3 L1413.1,865.5 L1414.5,864.6 L1415.9,864.7 L1417.4,864.9 L1418.8,865.5 L1420.2,866.5 L1421.6,867.4 L1423.1,868.9 L1424.5,870.5 M1427.2,871.1 L1428.5,870.7 L1429.9,870.3 L1431.2,868.5 L1432.6,866.5 L1433.9,864.6 L1435.3,864.4 L1436.6,864.4 L1437.9,864.3 L1439.1,863.1 L1440.3,861.9 L1441.5,860.6 L1442.7,859.2 M1446.3,854.9 L1447.4,856.5 L1448.5,858.3 L1449.5,860.1 L1450.6,861.4 L1451.6,862.4 L1452.7,863.4 L1453.8,864.3 L1454.8,864.6 L1455.9,864.7 L1457.0,864.8 L1458.0,864.9 L1459.1,867.6 L1460.4,869.3 L1461.7,870.7 L1463.0,868.8 L1464.4,866.1 L1465.7,863.3 L1467.1,863.3 L1468.4,864.1 L1469.7,864.8 L1471.1,863.6 L1472.5,862.2 L1473.9,861.5 L1475.3,862.1 M1478.1,863.4 L1479.6,864.0 L1481.0,864.6 L1482.4,865.5 L1483.8,867.1 L1485.3,868.7 L1486.8,868.4 L1488.3,866.6 L1489.8,864.9 L1491.3,865.4 L1492.8,866.4 L1494.3,867.4 M1498.8,870.3 L1500.3,868.3 L1501.8,866.3 L1503.2,866.7 L1504.7,867.6 L1506.2,868.5 L1507.7,869.4 L1509.1,870.3 L1510.6,870.6 L1512.1,869.8 L1513.4,868.2 L1514.7,867.5 L1516.1,867.7 L1517.4,867.8 L1518.8,867.0 L1520.1,865.4 L1521.4,863.9 L1522.8,863.5 L1524.1,863.9 L1525.5,864.3 L1526.8,863.7 M1529.5,861.6 L1530.9,861.4 L1532.4,861.0 L1533.8,860.6 L1535.2,862.6 L1536.6,865.1 L1538.1,867.4 L1539.5,866.6 L1540.9,865.8 L1542.3,865.0 L1543.5,864.1 L1544.8,863.1 L1546.0,862.1 M1549.8,858.2 L1551.0,857.5 L1552.3,857.0 L1553.5,856.6 L1554.8,856.0 L1556.1,856.9 L1557.4,858.0 L1558.7,859.0 L1560.0,859.9 L1561.3,860.9 L1562.6,862.0 L1563.9,863.5 L1565.2,865.0 L1566.5,865.5 L1567.8,864.3 L1569.1,863.2 L1570.4,862.4 L1571.9,862.7 L1573.3,863.1 L1574.7,863.7 L1576.1,864.5 L1577.6,865.3 M1581.8,862.0 L1583.2,861.5 L1584.6,861.1 L1586.0,860.7 L1587.4,861.1 L1588.7,861.5 L1590.1,861.7 L1591.5,860.0 L1592.9,858.4 L1594.3,857.0 L1595.6,856.5 L1597.0,856.1 M1600.5,857.6 L1601.7,858.2 L1602.8,860.0 L1604.0,862.2 L1605.1,864.4 L1606.2,866.2 L1607.4,866.7 L1608.5,867.2 L1609.7,867.7 L1610.8,867.7 L1611.9,867.5 L1613.2,866.7 L1614.7,866.4 L1616.2,867.6 L1617.7,868.7 L1619.2,867.7 L1620.7,866.2 L1622.2,865.2 L1623.7,867.1 L1625.2,869.1 L1626.7,870.0 L1628.2,869.6 L1629.7,869.2 M1632.4,866.6 L1633.7,865.3 L1635.1,864.4 L1636.4,863.5 L1637.8,862.6 L1639.1,861.0 L1640.4,859.2 L1641.8,857.5 L1643.2,858.8 L1644.7,861.3 L1646.2,863.4 L1647.7,862.8 L1649.1,862.3 M1652.1,862.0 L1653.6,862.0 L1655.1,862.9 L1656.6,864.0 L1658.0,865.2 L1659.4,864.5 L1660.9,863.8 L1662.3,863.3 L1663.7,863.9 L1665.1,864.4 L1666.6,864.9 L1668.0,865.3 L1669.4,865.7 L1670.7,865.3 L1671.9,863.9 L1673.0,862.5 L1674.2,861.6 L1675.3,863.2 L1676.5,864.8 L1677.7,866.4 L1678.8,865.0 L1680.0,862.2 L1681.1,859.5 M1685.0,856.4 L1686.5,856.8 L1687.9,858.1 L1689.4,859.4 L1690.9,857.7 L1692.4,854.4 L1693.9,851.0 L1695.4,853.5 L1696.9,856.4 L1698.4,858.7 L1699.9,858.9 M1704.0,859.5 L1705.4,859.2 L1706.8,860.1 L1708.2,861.9 L1709.5,863.7 L1710.9,863.3 L1712.3,861.9 L1713.7,860.4 L1715.1,861.8 L1716.5,863.6 L1718.0,865.4 L1719.5,866.2 L1721.0,867.0 L1722.5,866.5 L1724.0,863.7 L1725.5,860.9 L1727.0,860.5 L1728.5,861.2 L1730.0,861.9 L1731.5,863.1 M1736.0,865.1 L1737.5,865.2 L1739.0,864.8 L1740.5,864.3 L1742.0,863.7 L1743.5,864.6 L1745.0,865.5 L1746.5,866.0 L1748.0,865.9 L1749.5,865.8 L1751.0,864.8 M1755.4,862.0 L1756.9,862.7 L1758.3,863.0 L1759.8,861.6 L1761.2,860.2 L1762.7,859.0 L1764.1,857.9 L1765.6,856.9 L1767.1,856.1 L1768.5,855.4 L1770.0,855.1 L1771.5,858.1 L1773.0,861.2 L1774.5,862.9 L1776.0,861.8 L1777.5,860.8 L1779.0,861.7 L1780.4,863.9 L1781.7,866.3 L1783.0,865.5 L1784.3,863.6 M1786.9,862.1 L1788.2,863.7 L1789.5,865.3 L1790.8,866.7 L1792.1,868.0 L1793.4,869.3 L1794.7,869.8 L1796.2,869.0 L1797.6,868.1 L1799.1,868.0 L1800.5,868.2 L1801.9,868.3 L1803.4,867.6 M1806.3,866.1 L1807.7,865.1 L1809.1,864.0 L1810.5,862.5 L1811.8,860.4 L1813.2,858.4 L1814.5,857.3 L1815.9,857.8 L1817.2,858.2 L1818.6,859.1 L1819.9,860.5 L1821.2,862.0 L1822.6,862.4 L1824.1,861.8 L1825.6,861.1 L1827.1,861.5 L1828.6,862.2 L1830.1,862.8 L1831.6,861.3 L1833.0,859.7 L1834.5,858.9 M1839.0,859.9 L1840.2,860.2 L1841.4,860.7 L1842.5,861.8 L1843.7,863.6 L1844.8,865.5 L1846.0,867.3 L1847.1,868.1 L1848.3,868.8 L1849.4,869.5 L1850.6,870.5 L1851.7,871.8 L1853.1,872.2 L1854.6,872.6 M1857.5,874.4 L1859.0,873.0 L1860.5,870.5 L1862.0,867.9 L1863.5,869.0 L1864.9,870.2 L1866.4,870.3 L1867.9,868.1 L1869.3,865.9 L1870.8,865.8 L1872.2,867.6 L1873.7,869.4 L1875.1,868.4 L1876.6,866.7 L1878.0,865.1 L1879.5,865.1 L1881.0,865.0 L1882.4,864.9 L1883.8,864.5 L1885.2,864.1 L1886.6,864.2 M1889.4,865.5 L1890.7,864.8 L1892.1,862.9 L1893.4,861.9 L1894.6,862.1 L1895.7,862.7 L1896.9,863.3 L1898.1,863.9" fill="none" stroke="#0000ff" stroke-width="11.9" stroke-linejoin="round" stroke-linecap="butt"/>
<path d="M217.5,238.5 L218.3,240.1 L219.1,241.9 L219.9,243.3 L220.6,244.3 L221.4,245.1 L222.2,246.0 L223.0,246.8 M227.9,252.8 L228.8,254.4 L229.7,256.5 L230.5,258.5 L230.9,260.3 L231.3,262.2 L231.6,263.9 M233.8,273.8 L234.1,275.4 L234.5,277.1 L234.8,278.2 L235.2,279.3 L235.6,280.4 L236.0,281.5 L236.4,282.6 M238.9,288.7 L239.3,289.7 L239.8,290.7 L240.2,291.7 L240.5,292.8 L240.9,294.4 L241.2,296.0 M243.4,305.7 L243.8,307.4 L244.1,309.3 L244.5,311.1 L245.0,313.1 L245.5,315.0 L246.0,317.0 M249.5,325.6 L250.1,326.5 L250.6,327.4 L251.0,328.4 L251.5,329.5 L251.9,330.5 L252.3,331.5 M254.8,340.1 L255.2,341.6 L255.6,343.1 L256.0,344.5 L256.4,346.0 L256.8,347.4 L257.2,348.9 M259.7,357.6 L260.1,359.0 L260.5,360.5 L260.9,361.9 L261.3,363.4 L261.7,364.9 L262.0,366.4 L262.4,367.9 M264.6,377.0 L264.9,378.6 L265.3,380.1 L265.6,381.7 L266.0,383.2 L266.4,384.7 L266.7,386.3 M268.9,395.9 L269.3,397.5 L269.7,399.1 L270.0,400.7 L270.4,402.4 L270.8,403.8 L271.2,405.2 M273.5,413.6 L273.8,415.0 L274.2,416.4 L274.6,417.8 L275.0,419.1 L275.4,420.5 L275.8,421.9 L276.3,423.2 M278.8,433.0 L279.2,434.6 L279.6,436.2 L280.1,437.6 L280.4,439.0 L280.7,440.4 L281.1,441.8 M283.1,449.8 L283.5,451.0 L283.8,452.1 L284.2,453.3 L284.5,454.5 L284.9,455.6 L285.3,456.7 L285.6,458.0 M287.9,466.4 L288.3,467.8 L288.7,469.3 L289.1,470.8 L289.4,472.3 L289.8,473.9 L290.1,475.4 M292.1,484.4 L292.5,485.8 L292.8,487.3 L293.1,488.7 L293.6,490.1 L294.1,491.5 L294.5,492.9 M297.4,501.4 L297.9,502.9 L298.3,504.5 L298.7,506.1 L299.1,507.7 L299.5,509.3 L299.9,510.9 L300.3,512.5 M302.7,521.8 L303.1,523.4 L303.5,524.9 L303.9,526.2 L304.4,527.5 L304.8,528.8 L305.3,530.0 M307.9,537.8 L308.3,539.1 L308.8,540.4 L309.2,541.7 L309.6,543.1 L310.1,544.5 L310.5,545.9 L311.0,547.3 M313.6,555.6 L314.0,556.9 L314.5,558.2 L314.9,559.5 L315.4,560.8 L315.8,562.3 L316.2,563.7 M318.9,572.7 L319.3,574.3 L319.8,575.9 L320.2,577.6 L320.6,579.2 L321.1,580.8 L321.5,582.4 M324.2,591.9 L324.6,593.5 L325.1,595.3 L325.5,597.0 L326.0,598.8 L326.4,600.5 L326.8,602.3 L327.3,604.1 M329.9,612.0 L330.4,613.2 L330.8,614.3 L331.3,615.3 L331.7,616.3 L332.1,617.3 L332.6,618.3 M335.2,626.3 L335.7,627.7 L336.1,629.2 L336.6,630.7 L337.0,632.2 L337.5,633.7 L337.9,635.3 L338.4,636.8 M341.1,645.9 L341.6,647.5 L342.1,649.0 L342.5,650.5 L343.0,651.9 L343.4,653.2 L343.9,654.5 M346.7,661.9 L347.2,663.1 L347.6,664.2 L348.1,665.3 L348.6,666.6 L349.0,668.2 L349.5,669.8 M352.3,679.7 L352.7,681.5 L353.1,683.2 L353.4,685.0 L353.8,686.7 L354.1,688.4 L354.4,690.2 L354.8,691.7 M356.9,700.6 L357.2,702.1 L357.6,703.5 L357.9,704.9 L358.3,706.2 L358.6,707.6 L358.9,708.9 M361.0,717.2 L361.3,718.7 L361.7,720.1 L362.1,721.5 L362.7,722.9 L363.3,724.2 L364.0,725.4 L364.6,726.6 M368.4,733.8 L369.1,735.1 L369.7,736.4 L370.4,738.2 L370.8,739.8 L371.2,741.5 L371.6,743.1 M373.8,753.5 L374.1,755.2 L374.5,757.0 L374.9,758.8 L375.3,760.6 L375.8,762.4 L376.3,764.1 M379.3,774.2 L379.8,775.8 L380.3,777.3 L380.8,778.9 L381.3,780.4 L381.8,781.8 L382.3,783.0 L382.8,784.2 M385.8,791.5 L386.3,792.8 L386.8,794.0 L387.3,795.2 L387.8,796.5 L388.2,797.8 L388.7,799.0 M391.3,806.5 L391.8,807.6 L392.2,808.8 L392.6,810.0 L393.1,811.1 L393.6,812.3 L394.2,813.8 L394.7,815.4 M397.8,824.9 L398.4,826.5 L398.9,828.2 L399.4,829.8 L399.9,831.1 L400.3,832.4 L400.7,833.7 M403.4,841.4 L403.8,842.7 L404.3,844.1 L404.7,845.4 L405.2,846.7 L405.7,848.1 L406.2,849.6 M409.5,858.5 L410.0,859.9 L410.5,861.4 L411.1,862.8 L411.6,864.1 L412.2,865.4 L412.8,866.6 L413.4,867.8 M416.9,875.6 L417.5,876.9 L418.1,878.5 L418.7,880.0 L419.3,881.5 L419.7,883.0 L420.2,884.6 M422.9,892.7 L423.4,894.0 L423.8,895.4 L424.3,896.7 L424.7,898.1 L425.2,899.5 L425.7,900.9 L426.2,902.3 M429.3,911.0 L429.8,912.2 L430.3,913.2 L430.8,914.3 L431.4,915.3 L431.9,916.3 L432.5,917.3 M436.0,924.3 L436.6,926.0 L437.1,927.7 L437.7,929.4 L438.3,931.2 L438.8,933.0 L439.4,934.8 M442.5,944.8 L443.0,946.0 L443.5,947.3 L444.0,948.6 L444.5,949.8 L445.1,950.8 L445.6,951.8 L446.2,952.8 M449.7,960.5 L450.3,962.0 L450.9,963.5 L451.4,965.1 L452.0,966.8 L452.7,968.4 L453.4,970.0 M457.6,976.6 L458.3,978.0 L459.0,979.3 L459.7,980.7 L460.5,982.4 L461.1,984.0 L461.7,985.7 L462.3,987.3 M466.0,995.0 L466.6,996.4 L467.2,997.8 L467.8,999.2 L468.5,1000.6 L469.5,1002.0 L470.5,1003.4 M476.6,1011.1 L477.7,1012.7 L478.7,1014.2 L479.7,1015.6 L480.7,1016.8 L481.9,1016.8 L483.1,1016.7 M490.2,1019.0 L491.4,1020.7 L492.6,1022.4 L493.8,1024.0 L494.9,1025.6 L496.0,1027.0 L497.1,1028.1 L498.2,1029.2 M504.8,1033.9 L505.9,1034.7 L507.3,1035.2 L508.6,1036.1 L510.0,1037.0 L511.4,1038.0 L512.7,1039.0 M518.1,1042.8 L519.0,1044.6 L519.9,1046.3 L520.8,1048.2 L521.7,1050.0 L522.6,1051.7 L523.5,1052.2 L524.4,1052.6 L525.3,1053.1 L526.2,1053.7 L527.1,1054.4 M531.4,1058.6 L532.9,1058.0 L534.3,1057.3 L535.8,1056.1 L537.2,1054.9 L538.7,1054.8 L540.1,1055.2 M545.5,1056.4 L546.8,1056.4 L548.2,1056.7 L549.5,1057.0 L550.9,1057.7 L552.3,1057.9 L553.7,1058.5 M558.1,1059.8 L559.5,1059.4 L561.0,1058.6 L562.5,1058.5 L563.9,1058.8 L565.4,1058.8 L566.8,1058.6 M572.7,1054.4 L574.2,1053.9 L575.6,1053.4 L577.1,1052.7 L578.6,1051.6 L580.0,1050.8 L581.5,1050.7 M586.0,1052.4 L587.5,1052.6 L589.0,1052.5 L590.4,1052.0 L591.9,1051.7 L593.4,1051.8 L594.9,1052.1 M599.2,1049.2 L600.3,1048.5 L601.7,1049.0 L603.2,1049.5 L604.6,1049.9 L606.1,1050.2 L607.5,1050.9 M613.3,1053.9 L614.7,1053.7 L616.2,1053.4 L617.6,1053.2 L619.1,1053.1 L620.5,1053.3 L621.9,1053.3 M626.1,1053.7 L627.5,1054.5 L628.9,1056.0 L630.3,1057.6 L631.7,1058.8 L633.1,1059.9 L634.5,1060.7 M640.3,1057.4 L641.8,1056.7 L643.3,1057.1 L644.7,1058.5 L646.2,1059.1 L647.7,1058.6 M653.5,1055.5 L654.9,1055.2 L656.3,1053.9 L657.7,1052.6 L659.1,1050.7 L660.6,1048.9 L662.0,1048.8 M667.1,1049.0 L668.2,1048.6 L669.4,1048.2 L670.6,1046.7 L671.7,1045.1 L672.9,1043.6 L674.1,1042.2 L675.3,1040.9 M680.5,1037.8 L681.8,1036.8 L683.1,1036.1 L684.4,1035.3 L685.7,1035.4 L687.0,1035.6 L688.3,1035.7 M693.9,1035.9 L695.3,1035.0 L696.7,1034.2 L698.2,1034.4 L699.6,1034.6 L701.0,1035.7 L702.4,1036.7 M707.1,1039.5 L708.2,1040.0 L709.4,1041.2 L710.5,1042.6 L711.7,1044.3 L712.8,1046.8 L714.0,1049.4 L715.1,1051.0 L716.4,1051.7 M720.2,1052.0 L721.4,1053.1 L722.7,1054.7 L723.9,1055.9 L725.2,1056.4 L726.5,1056.9 L727.7,1055.9 L729.0,1055.0 M734.7,1057.2 L736.2,1058.2 L737.7,1058.8 L739.2,1058.9 L740.7,1058.7 L742.2,1058.4 M748.2,1060.5 L749.7,1062.2 L751.2,1062.9 L752.7,1062.6 L754.2,1061.3 L755.7,1058.9 M761.6,1058.7 L763.1,1058.7 L764.6,1057.2 L766.0,1055.8 L767.5,1054.7 L769.0,1054.1 L770.5,1054.7 M774.8,1058.2 L776.2,1059.1 L777.6,1059.9 L779.0,1059.6 L780.4,1059.4 L781.8,1059.2 L783.2,1059.0 M789.0,1063.0 L790.5,1063.8 L792.0,1064.5 L793.5,1063.9 L795.0,1062.7 L796.5,1061.4 M802.0,1060.6 L803.1,1060.5 L804.1,1060.3 L805.2,1059.0 L806.2,1057.1 L807.3,1055.2 L808.4,1053.1 L809.4,1051.1 L810.6,1049.2 M815.4,1049.1 L816.6,1049.4 L817.8,1048.7 L819.0,1048.1 L820.2,1047.0 L821.4,1045.6 L822.6,1044.6 L823.6,1046.1 M828.7,1052.5 L829.7,1052.9 L830.7,1053.4 L831.7,1054.1 L832.8,1055.6 L833.8,1057.1 L834.8,1058.8 L836.1,1060.8 L837.6,1062.4 M842.1,1061.9 L843.6,1060.9 L845.1,1060.3 L846.6,1059.8 L848.0,1059.6 L849.5,1059.4 L851.0,1058.9 M855.3,1058.0 L856.8,1058.1 L858.2,1058.2 L859.7,1058.9 L861.1,1059.6 L862.5,1061.1 L864.0,1062.9 M869.9,1064.4 L871.4,1064.1 L872.9,1063.9 L874.4,1063.8 L875.9,1063.7 L877.4,1063.2 M883.4,1060.2 L884.9,1059.0 L886.4,1059.1 L887.9,1060.0 L889.4,1060.5 L890.9,1060.8 M896.9,1058.2 L898.3,1059.3 L899.8,1060.8 L901.3,1061.2 L902.8,1060.5 L904.3,1059.9 M909.9,1061.1 L911.3,1062.2 L912.7,1063.4 L914.2,1064.7 L915.6,1065.9 L917.0,1066.4 L918.4,1066.9 M923.8,1062.2 L925.1,1061.7 L926.5,1061.8 L927.8,1062.0 L929.1,1062.2 L930.5,1062.4 L931.8,1061.6 M936.1,1060.2 L937.6,1059.6 L939.0,1058.9 L940.5,1058.1 L942.0,1057.4 L943.5,1057.7 L945.0,1058.5 M950.3,1063.1 L951.6,1063.5 L952.9,1063.2 L954.2,1062.8 L955.4,1063.1 L956.7,1063.6 L957.8,1063.1 L958.7,1062.5 M963.3,1058.3 L964.2,1057.0 L965.1,1055.7 L966.0,1054.4 L966.9,1053.3 L967.8,1052.2 L969.3,1052.2 L970.8,1052.4 L972.3,1052.7 M976.7,1053.5 L978.2,1053.8 L979.7,1054.0 L981.0,1054.5 L982.1,1055.7 L983.2,1056.8 L984.3,1057.8 L985.4,1058.4 L986.5,1058.9 M991.0,1060.5 L992.1,1061.5 L993.2,1062.5 L994.6,1062.8 L996.1,1062.9 L997.6,1062.8 L999.1,1062.6 M1005.0,1063.4 L1006.5,1062.1 L1008.0,1060.1 L1009.4,1058.9 L1010.9,1058.2 L1012.4,1058.6 M1018.2,1060.1 L1019.7,1059.1 L1021.1,1058.3 L1022.6,1057.8 L1024.1,1057.9 L1025.5,1058.5 L1026.8,1058.6 M1030.6,1055.6 L1031.9,1053.8 L1033.2,1052.4 L1034.5,1051.3 L1035.8,1050.4 L1037.1,1051.2 L1038.5,1051.9 L1039.9,1052.4 M1044.1,1053.1 L1045.5,1053.7 L1046.8,1054.5 L1048.2,1055.7 L1049.7,1056.9 L1051.2,1057.6 L1052.7,1057.6 M1058.7,1055.8 L1060.2,1055.1 L1061.7,1054.4 L1063.2,1054.5 L1064.5,1054.8 L1065.8,1054.8 L1067.1,1054.5 M1072.3,1051.5 L1073.6,1050.6 L1074.9,1049.8 L1076.2,1049.1 L1077.4,1049.9 L1078.6,1051.1 L1079.8,1052.3 L1081.0,1053.2 M1084.6,1054.4 L1085.8,1054.7 L1087.0,1055.3 L1088.2,1056.5 L1089.4,1057.5 L1090.9,1058.4 L1092.4,1059.3 L1093.9,1059.6 M1098.4,1057.2 L1099.9,1056.8 L1101.4,1056.4 L1102.7,1056.5 L1103.9,1056.3 L1105.2,1055.9 L1106.4,1055.2 L1107.6,1054.5 M1112.5,1051.5 L1113.7,1050.2 L1114.9,1048.5 L1116.1,1046.9 L1117.4,1046.4 L1118.8,1047.3 L1120.1,1048.5 L1121.5,1050.1 M1125.6,1053.4 L1126.9,1053.8 L1128.3,1054.2 L1129.7,1055.6 L1131.0,1057.1 L1132.4,1058.3 L1133.4,1059.6 L1134.2,1061.1 L1135.0,1061.8 M1139.1,1063.4 L1139.9,1063.8 L1140.7,1064.4 L1141.5,1065.4 L1142.3,1066.4 L1143.6,1066.4 L1145.1,1066.3 L1146.6,1066.3 L1148.1,1066.6 M1152.6,1066.6 L1154.1,1066.7 L1155.5,1066.7 L1156.4,1065.5 L1157.4,1064.3 L1158.3,1063.1 L1159.2,1061.3 L1160.1,1059.4 L1161.0,1057.4 L1161.9,1056.2 M1165.6,1055.3 L1166.7,1057.0 L1168.1,1059.2 L1169.5,1060.1 L1170.9,1060.7 L1172.2,1060.5 L1173.6,1060.4 L1175.0,1061.2 M1179.2,1064.2 L1180.6,1064.4 L1181.9,1064.4 L1183.3,1064.0 L1184.7,1063.3 L1186.1,1062.8 L1187.5,1062.7 L1188.9,1062.8 M1192.9,1063.4 L1194.1,1062.5 L1195.3,1061.5 L1196.5,1060.4 L1197.8,1059.4 L1199.0,1058.7 L1200.2,1058.1 L1201.4,1057.5 M1206.3,1055.6 L1207.7,1055.3 L1209.2,1055.3 L1210.7,1054.6 L1212.2,1053.8 L1213.7,1054.3 L1215.2,1055.2 M1220.8,1059.5 L1222.1,1060.2 L1223.5,1061.0 L1224.8,1061.9 L1226.2,1063.0 L1227.5,1064.1 L1228.8,1064.7 M1234.4,1062.4 L1235.8,1060.6 L1237.2,1059.5 L1238.7,1059.1 L1240.1,1058.6 L1241.6,1058.1 L1243.0,1057.4 M1247.3,1055.4 L1248.7,1054.7 L1250.0,1053.7 L1251.4,1052.8 L1252.7,1052.1 L1254.0,1051.6 L1255.4,1051.6 M1260.7,1051.1 L1261.9,1049.6 L1263.0,1048.1 L1264.2,1046.8 L1265.4,1045.6 L1266.5,1044.4 L1267.7,1043.7 L1268.9,1043.0 L1270.1,1042.3 M1273.7,1044.2 L1274.9,1045.2 L1276.1,1046.2 L1277.3,1047.2 L1278.6,1048.2 L1279.8,1049.2 L1281.0,1050.2 L1282.2,1051.4 L1283.4,1052.7 M1287.1,1056.4 L1288.3,1057.2 L1289.4,1057.8 L1290.6,1058.3 L1291.8,1058.5 L1293.0,1058.8 L1294.1,1059.4 L1295.3,1060.4 L1296.5,1061.3 M1301.3,1065.7 L1302.5,1064.8 L1303.8,1063.1 L1305.1,1061.4 L1306.3,1059.1 L1307.6,1056.6 L1308.9,1054.7 L1310.1,1055.0 M1314.7,1063.8 L1315.9,1066.1 L1317.0,1068.3 L1318.2,1070.0 L1319.3,1071.5 L1320.5,1072.9 L1321.6,1073.6 L1322.8,1073.4 L1323.9,1072.1 M1328.5,1065.7 L1329.7,1064.1 L1330.8,1062.9 L1332.0,1061.7 L1333.1,1060.9 L1334.3,1060.5 L1335.4,1060.0 L1336.6,1059.2 M1341.2,1055.9 L1342.5,1055.4 L1343.9,1055.0 L1345.3,1054.6 L1346.7,1054.2 L1348.0,1053.7 L1349.4,1053.1 L1350.8,1052.3 M1354.9,1048.4 L1356.3,1047.2 L1357.8,1047.1 L1359.3,1047.0 L1360.8,1048.0 L1362.3,1049.1 L1363.8,1050.2 M1368.3,1051.3 L1369.8,1051.6 L1371.3,1052.0 L1372.8,1052.4 L1374.2,1052.5 L1375.7,1051.9 L1377.1,1051.2 M1382.8,1046.5 L1384.2,1046.1 L1385.6,1046.4 L1387.1,1046.7 L1388.5,1046.9 L1389.9,1046.5 L1391.4,1045.1 M1395.7,1041.6 L1397.1,1041.4 L1398.2,1042.5 L1399.3,1043.6 L1400.4,1044.6 L1401.5,1045.6 L1402.6,1046.9 L1403.7,1048.2 L1404.8,1049.5 M1409.2,1053.9 L1410.3,1054.2 L1411.4,1054.9 L1412.7,1055.1 L1414.2,1055.6 L1415.7,1057.4 L1417.1,1058.6 M1423.1,1057.4 L1424.6,1056.8 L1426.1,1056.1 L1427.6,1055.4 L1429.1,1055.0 L1430.6,1055.0 M1436.6,1057.3 L1438.0,1057.9 L1439.4,1058.3 L1440.8,1058.5 L1442.2,1058.3 L1443.6,1058.1 L1445.0,1058.0 M1449.1,1059.9 L1450.5,1061.4 L1451.9,1063.0 L1453.1,1062.8 L1454.3,1062.0 L1455.6,1061.1 L1456.8,1059.1 L1458.0,1057.2 M1462.9,1054.1 L1464.2,1054.3 L1465.7,1054.4 L1467.1,1054.4 L1468.6,1053.4 L1470.1,1052.0 L1471.5,1050.6 M1477.2,1048.8 L1478.3,1050.2 L1479.5,1051.6 L1480.6,1052.4 L1481.8,1053.2 L1482.9,1054.0 L1484.1,1055.0 L1485.2,1055.9 M1489.8,1062.6 L1491.0,1063.9 L1492.4,1064.0 L1493.8,1063.7 L1495.2,1063.4 L1496.6,1063.3 L1498.0,1063.6 L1499.4,1065.0 M1503.5,1067.5 L1504.7,1065.8 L1505.8,1064.0 L1507.0,1062.8 L1508.2,1062.3 L1509.3,1061.7 L1510.5,1061.2 L1511.7,1060.6 L1512.9,1059.9 M1517.1,1055.3 L1518.1,1054.3 L1519.1,1053.3 L1520.0,1052.4 L1521.0,1051.4 L1521.9,1050.5 L1522.9,1049.7 L1523.9,1048.9 L1524.8,1047.9 L1525.8,1046.7 M1530.4,1046.6 L1531.7,1048.0 L1532.9,1049.5 L1534.2,1050.5 L1535.5,1051.2 L1536.8,1051.7 L1538.1,1051.5 L1539.4,1051.4 M1544.6,1048.3 L1545.8,1047.8 L1547.1,1048.2 L1548.4,1048.7 L1549.7,1048.2 L1550.9,1047.6 L1552.2,1047.0 M1557.8,1047.6 L1559.2,1047.5 L1560.6,1047.5 L1562.0,1047.8 L1563.4,1048.1 L1564.8,1048.3 L1566.2,1047.8 M1571.9,1046.3 L1573.3,1045.7 L1574.7,1045.1 L1576.2,1045.0 L1577.6,1045.7 L1579.0,1046.3 L1580.2,1047.6 M1585.2,1048.5 L1586.5,1049.2 L1587.7,1050.1 L1589.0,1051.7 L1590.2,1053.3 L1591.5,1054.5 L1592.7,1055.6 L1594.0,1056.8 M1598.0,1059.3 L1599.4,1059.6 L1600.7,1059.7 L1602.0,1059.8 L1603.4,1060.7 L1604.7,1062.0 L1606.1,1063.2 M1612.1,1063.5 L1613.6,1062.8 L1615.1,1062.0 L1616.6,1061.0 L1618.1,1059.9 L1619.6,1058.6 M1625.5,1061.2 L1626.9,1062.1 L1628.4,1062.0 L1629.8,1061.7 L1631.3,1060.8 L1632.7,1060.0 L1634.2,1059.1 M1638.5,1056.3 L1639.9,1055.6 L1641.4,1055.8 L1642.8,1056.1 L1644.2,1056.4 L1645.7,1056.9 L1647.1,1057.4 M1652.9,1058.8 L1654.3,1058.7 L1655.7,1058.7 L1657.2,1058.5 L1658.6,1058.1 L1660.0,1057.8 L1661.5,1057.7 M1665.7,1058.3 L1667.0,1059.3 L1668.2,1060.2 L1669.5,1060.7 L1670.8,1061.2 L1672.1,1060.9 L1673.4,1060.0 L1674.7,1059.4 M1678.6,1062.4 L1680.0,1064.6 L1681.5,1066.5 L1683.0,1068.4 L1684.4,1069.5 L1685.9,1070.3 L1687.4,1070.5 M1692.9,1066.8 L1694.0,1065.3 L1695.2,1063.8 L1696.4,1063.1 L1697.5,1062.6 L1698.7,1062.0 L1699.9,1061.0 L1701.1,1060.0 M1706.6,1051.9 L1707.7,1050.7 L1708.7,1050.3 L1709.8,1049.8 L1710.8,1049.0 L1711.9,1047.5 L1713.0,1046.0 L1714.0,1044.3 L1715.1,1042.3 M1719.2,1041.6 L1720.6,1042.3 L1722.0,1043.0 L1723.5,1042.9 L1724.9,1042.4 L1726.4,1042.1 L1727.8,1041.9 L1728.9,1042.9 M1733.1,1046.1 L1734.2,1046.8 L1735.2,1047.9 L1736.3,1049.1 L1737.4,1050.4 L1738.4,1051.3 L1739.5,1052.2 L1740.6,1053.0 L1741.9,1053.5 M1746.9,1058.9 L1748.1,1060.0 L1749.4,1061.0 L1750.6,1060.5 L1751.9,1059.7 L1753.1,1059.2 L1754.4,1058.9 L1755.8,1058.4 M1760.3,1063.3 L1761.8,1064.9 L1763.3,1064.7 L1764.8,1064.3 L1766.3,1063.2 L1767.7,1062.1 L1769.2,1061.0 M1773.4,1057.4 L1774.8,1056.9 L1776.3,1056.4 L1777.7,1057.0 L1779.1,1057.8 L1780.5,1057.7 L1782.0,1057.4 M1787.8,1056.1 L1789.2,1056.9 L1790.7,1058.1 L1792.2,1059.3 L1793.6,1060.5 L1795.1,1061.7 L1796.5,1062.8 M1800.9,1064.2 L1802.3,1064.2 L1803.8,1064.2 L1805.3,1063.8 L1806.7,1063.3 L1808.2,1062.0 L1809.6,1060.7 M1814.1,1057.4 L1815.6,1057.6 L1817.1,1058.8 L1818.6,1060.0 L1820.1,1059.9 L1821.6,1059.8 L1823.1,1058.4 M1827.1,1052.2 L1828.5,1051.4 L1829.8,1051.0 L1831.1,1051.3 L1832.5,1052.4 L1833.8,1053.2 L1835.2,1052.9 L1836.5,1052.7 M1842.1,1047.8 L1843.6,1047.4 L1845.1,1047.1 L1846.6,1048.1 L1848.1,1049.5 L1849.6,1051.1 M1854.2,1057.0 L1855.3,1057.4 L1856.4,1057.6 L1857.5,1057.8 L1858.6,1057.9 L1859.7,1058.0 L1860.9,1058.4 L1862.0,1059.5 L1863.2,1059.5 M1868.6,1060.7 L1869.9,1059.9 L1871.3,1058.1 L1872.6,1056.3 L1874.0,1055.4 L1875.3,1054.5 L1876.7,1053.7 M1882.0,1047.8 L1883.4,1046.3 L1884.7,1045.1 L1886.0,1045.6 L1887.4,1046.1 L1888.7,1046.2 L1890.1,1046.3" fill="none" stroke="#be0e2d" stroke-width="11.9" stroke-linejoin="round" stroke-linecap="butt"/>
<path d="M218.0,255.9 L218.1,257.4 L218.3,259.0 L218.4,260.5 L218.6,262.1 L218.7,263.6 L218.8,265.2 L219.0,266.7 L219.1,268.3 L219.3,269.8 L219.4,271.4 L219.5,272.9 L219.6,274.4 L219.7,276.0 L219.8,277.5 L220.0,279.1 L220.1,280.6 L220.2,282.1 L220.3,283.5 L220.4,285.0 L220.5,286.5 L220.6,288.0 L220.7,289.5 L220.8,291.0 L220.9,292.5 L221.0,294.0 L221.1,295.5 L221.2,296.9 L221.3,298.4 L221.4,299.9 L221.5,301.4 L221.7,302.9 L221.8,304.4 L221.9,305.9 L222.0,307.3 L222.2,308.8 L222.3,310.2 L222.4,311.7 L222.6,313.1 L222.7,314.5 L222.8,316.0 L223.0,317.4 L223.1,318.9 L223.2,320.3 L223.3,321.7 L223.5,323.2 L223.6,324.6 L223.7,326.1 L223.9,327.5 L224.0,328.9 L224.1,330.4 L224.3,331.8 L224.4,333.3 L224.6,334.7 L224.8,336.1 L225.0,337.6 L225.2,339.0 L225.3,340.4 L225.5,341.8 L225.7,343.2 L225.9,344.7 L226.1,346.1 L226.3,347.5 L226.5,348.8 L226.7,350.2 L226.9,351.6 L227.1,353.0 L227.3,354.4 L227.4,355.7 L227.6,357.1 L227.8,358.5 L228.0,359.9 L228.2,361.2 L228.4,362.5 L228.6,363.9 L228.8,365.2 L229.0,366.5 L229.2,367.8 L229.4,369.1 L229.6,370.4 L229.9,371.7 L230.1,373.1 L230.4,374.6 L230.7,376.1 L230.9,377.6 L231.2,379.1 L231.4,380.6 L231.7,382.1 L231.9,383.7 L232.2,385.3 L232.5,386.9 L232.7,388.5 L233.0,390.1 L233.2,391.7 L233.5,393.4 L233.7,395.0 L234.0,396.6 L234.2,398.2 L234.5,399.7 L234.8,401.3 L235.0,402.9 L235.3,404.5 L235.5,406.0 L235.8,407.6 L236.1,409.2 L236.4,410.9 L236.7,412.7 L237.0,414.4 L237.2,416.1 L237.5,417.9 L237.8,419.6 L238.1,421.3 L238.4,423.0 L238.7,424.7 L239.0,426.4 L239.3,428.1 L239.6,429.8 L239.9,431.5 L240.2,433.0 L240.5,434.4 L240.7,435.8 L241.0,437.2 L241.3,438.6 L241.6,440.0 L241.8,441.4 L242.1,442.8 L242.4,444.1 L242.7,445.5 L242.9,446.8 L243.2,448.1 L243.5,449.4 L243.7,450.7 L244.0,452.1 L244.3,453.4 L244.6,454.8 L244.9,456.1 L245.2,457.4 L245.6,458.8 L245.9,460.1 L246.2,461.4 L246.5,462.5 L246.8,463.7 L247.1,464.9 L247.4,466.0 L247.7,467.2 L248.0,468.4 L248.3,469.7 L248.6,471.1 L248.9,472.4 L249.2,473.8 L249.4,475.2 L249.7,476.5 L250.0,477.9 L250.3,479.6 L250.6,481.2 L250.8,482.9 L251.1,484.5 L251.4,486.2 L251.7,487.9 L252.0,489.5 L252.2,491.0 L252.5,492.4 L252.8,493.8 L253.1,495.2 L253.4,496.7 L253.7,498.1 L254.0,499.5 L254.3,500.7 L254.5,501.8 L254.8,502.9 L255.1,504.1 L255.4,505.2 L255.7,506.3 L256.0,507.5 L256.2,508.9 L256.5,510.4 L256.8,511.8 L257.0,513.3 L257.3,514.8 L257.6,516.3 L257.8,517.7 L258.1,519.3 L258.4,521.0 L258.6,522.7 L258.9,524.4 L259.2,526.2 L259.4,527.9 L259.7,529.6 L259.9,531.3 L260.2,532.9 L260.4,534.5 L260.6,536.1 L260.9,537.8 L261.1,539.4 L261.4,541.0 L261.6,542.6 L261.8,544.2 L262.1,545.8 L262.3,547.5 L262.6,549.1 L262.8,550.8 L263.1,552.4 L263.3,554.1 L263.6,555.7 L263.8,557.4 L264.1,559.0 L264.3,560.5 L264.6,562.0 L264.8,563.5 L265.1,565.0 L265.3,566.5 L265.6,568.0 L265.8,569.5 L266.1,571.0 L266.3,572.4 L266.6,573.8 L266.8,575.2 L267.1,576.6 L267.3,578.0 L267.5,579.4 L267.7,580.8 L268.0,582.2 L268.2,583.7 L268.4,585.2 L268.6,586.7 L268.8,588.2 L269.1,589.7 L269.3,591.2 L269.5,592.8 L269.7,594.3 L270.0,595.8 L270.2,597.3 L270.5,598.8 L270.7,600.3 L271.0,601.8 L271.2,603.3 L271.5,604.8 L271.8,606.3 L272.0,607.7 L272.3,609.2 L272.5,610.7 L272.8,612.1 L273.1,613.6 L273.3,615.1 L273.6,616.5 L273.9,618.0 L274.2,619.4 L274.5,620.9 L274.8,622.3 L275.1,623.8 L275.4,625.2 L275.7,626.7 L276.0,628.1 L276.3,629.4 L276.6,630.7 L276.9,632.1 L277.1,633.4 L277.3,634.8 L277.5,636.2 L277.8,637.5 L278.0,638.9 L278.2,640.3 L278.4,641.7 L278.6,643.0 L278.9,644.4 L279.1,645.8 L279.3,647.2 L279.5,648.6 L279.7,650.0 L280.0,651.3 L280.2,652.8 L280.4,654.4 L280.6,655.9 L280.8,657.4 L281.1,659.0 L281.3,660.5 L281.5,662.0 L281.7,663.6 L282.0,665.1 L282.2,666.7 L282.4,668.3 L282.6,669.9 L282.9,671.5 L283.1,673.0 L283.3,674.6 L283.5,676.2 L283.8,677.8 L284.0,679.4 L284.2,680.9 L284.4,682.3 L284.7,683.7 L284.9,685.1 L285.2,686.6 L285.4,688.0 L285.6,689.4 L285.9,690.8 L286.1,692.3 L286.4,693.8 L286.6,695.3 L286.8,696.9 L287.1,698.4 L287.3,699.9 L287.6,701.4 L287.8,702.9 L288.1,704.5 L288.3,706.2 L288.5,707.8 L288.8,709.5 L289.1,711.2 L289.4,712.9 L289.6,714.6 L289.9,716.3 L290.2,717.7 L290.5,719.1 L290.7,720.4 L291.0,721.7 L291.3,723.1 L291.6,724.4 L291.8,725.7 L292.1,727.1 L292.4,728.4 L292.7,729.8 L292.9,731.1 L293.2,732.5 L293.5,733.8 L293.9,735.1 L294.2,736.7 L294.5,738.4 L294.8,740.2 L295.1,741.9 L295.5,743.6 L295.8,745.4 L296.1,747.1 L296.4,748.7 L296.7,750.3 L297.1,751.9 L297.4,753.5 L297.7,755.1 L298.0,756.6 L298.4,757.9 L298.7,759.2 L299.0,760.5 L299.3,761.8 L299.6,763.2 L299.9,764.5 L300.2,765.8 L300.5,767.2 L300.8,768.6 L301.1,770.0 L301.4,771.4 L301.7,772.8 L302.0,774.2 L302.3,775.5 L302.6,776.8 L302.9,778.0 L303.2,779.3 L303.6,780.6 L303.9,781.9 L304.2,783.1 L304.6,784.4 L304.9,785.8 L305.2,787.1 L305.6,788.4 L305.9,789.7 L306.2,791.3 L306.6,793.1 L306.9,794.9 L307.2,796.7 L307.5,798.5 L307.8,800.2 L308.0,801.9 L308.3,803.5 L308.5,805.1 L308.8,806.7 L309.0,808.3 L309.3,809.9 L309.5,811.5 L309.8,813.1 L310.0,814.7 L310.3,816.0 L310.5,817.3 L310.8,818.6 L311.0,819.9 L311.3,821.2 L311.5,822.6 L311.8,823.9 L312.0,825.2 L312.3,826.5 L312.5,827.8 L312.8,829.1 L313.0,830.4 L313.3,831.7 L313.6,833.0 L314.0,834.3 L314.4,835.5 L314.8,836.7 L315.2,837.9 L315.4,839.1 L315.6,840.3 L315.8,841.4 L316.2,842.6 L316.5,844.0 L316.8,845.4 L317.0,846.9 L317.2,848.3 L317.3,849.7 L317.4,851.1 L317.6,852.8 L318.0,854.6 L318.4,856.4 L318.6,858.3 L318.9,860.1 L319.1,861.9 L319.6,863.6 L320.1,865.3 L320.8,867.0 L321.8,868.7 L322.9,870.4 L323.6,872.0 L324.2,873.4 L324.8,874.8 L324.6,876.2 L324.4,877.7 L324.4,879.1 L324.6,880.6 L324.9,882.2 L325.3,883.7 L325.7,885.3 L326.1,886.9 L326.1,888.5 L326.1,890.1 L326.3,891.7 L326.8,893.2 L327.4,894.8 L327.9,896.4 L328.5,898.0 L329.1,899.6 L329.2,901.0 L329.6,902.2 L330.2,903.4 L330.9,904.8 L331.6,906.3 L332.3,907.9 L333.1,909.2 L333.8,910.4 L334.7,911.6 L335.6,912.3 L336.3,913.1 L336.8,913.8 L337.4,914.8 L337.5,915.8 L337.5,916.9 L337.6,918.0 L338.2,919.0 L338.9,920.6 L339.8,922.4 L340.9,924.1 L342.1,925.6 L342.8,927.2 L343.4,928.8 L343.9,929.8 L344.4,930.7 L344.8,931.6 L345.5,932.7 L346.6,934.0 L347.7,935.2 L348.7,936.6 L349.7,938.1 L350.7,939.7 L351.0,941.3 L351.3,942.9 L351.6,944.4 L351.8,945.9 L352.0,947.3 L352.4,948.7 L352.9,950.0 L353.5,951.3 L354.8,952.7 L356.2,954.1 L357.6,955.4 L359.1,956.9 L360.6,958.3 L361.5,959.8 L362.0,961.2 L362.5,962.3 L362.6,963.4 L363.0,964.5 L363.3,965.7 L363.8,966.9 L364.3,968.7 L364.8,970.5 L365.2,972.2 L365.6,973.6 L366.2,975.0 L366.8,975.8 L367.5,976.4 L368.0,977.1 L368.6,978.7 L369.0,980.2 L369.3,981.9 L369.6,983.8 L370.6,985.6 L371.5,986.1 L372.5,986.7 L373.6,987.6 L374.7,988.6 L375.6,989.5 L376.3,991.1 L377.0,992.9 L377.7,994.6 L378.3,996.3 L379.0,998.0 L380.0,999.6 L380.9,1000.9 L382.0,1002.2 L383.2,1003.3 L384.4,1004.4 L384.7,1005.4 L385.1,1006.7 L385.2,1008.3 L384.9,1009.8 L384.6,1011.5 L384.9,1013.4 L385.6,1015.2 L386.3,1017.0 L387.0,1018.2 L387.7,1019.4 L388.2,1020.6 L388.5,1021.7 L388.8,1022.9 L389.8,1024.0 L391.2,1025.2 L392.6,1026.7 L393.5,1028.2 L394.5,1029.7 L394.9,1030.7 L394.5,1031.5 L394.2,1032.3 L394.1,1033.0 L394.3,1033.7 L394.4,1034.4 L395.9,1035.7 L397.4,1037.4 L399.1,1039.1 L401.1,1040.9 L403.0,1042.7 L404.5,1044.6 L405.6,1046.2 L406.7,1047.8 L406.7,1049.3 L406.5,1050.9 L406.7,1052.3 L407.0,1053.8 L407.4,1055.1 L408.2,1056.3 L409.1,1057.1 L410.0,1058.2 L411.1,1059.5 L412.2,1060.7 L413.2,1061.7 L414.1,1062.2 L415.1,1061.6 L416.2,1061.3 L417.3,1061.9 L418.5,1062.8 L419.9,1064.6 L421.2,1065.9 L422.3,1066.4 L423.1,1066.9 L423.8,1067.4 L424.6,1068.8 L425.4,1070.6 L426.2,1071.9 L427.6,1073.0 L429.0,1074.1 L430.5,1075.1 L432.0,1077.9 L433.4,1080.8 L434.5,1083.2 L435.3,1085.4 L436.0,1086.1 L436.4,1086.7 L436.9,1086.9 L437.6,1087.1 L438.8,1087.7 L440.0,1088.3 L441.2,1089.3 L442.4,1090.3 L443.6,1091.5 L444.3,1092.8 L444.9,1094.2 L445.6,1095.5 L446.3,1096.8 L447.0,1098.1 L448.0,1099.5 L449.0,1100.9 L450.1,1102.6 L451.6,1104.2 L453.1,1105.7 L454.6,1106.7 L456.2,1107.0 L457.8,1106.8 L459.0,1106.0 L459.9,1106.1 L460.7,1106.8 L461.5,1108.7 L462.2,1110.8 L463.2,1112.4 L464.5,1113.8 L465.9,1115.0 L467.2,1116.2 L468.6,1117.3 L470.0,1118.3 L471.1,1119.4 L472.2,1120.6 L473.4,1121.6 L474.6,1122.5 L475.9,1122.6 L477.1,1123.0 L478.3,1123.7 L479.4,1125.2 L480.6,1126.9 L481.8,1127.9 L483.0,1128.8 L484.3,1129.2 L485.7,1129.9 L487.2,1130.5 L488.6,1131.1 L490.0,1131.1 L491.4,1131.1 L492.9,1131.2 L494.3,1131.4 L495.6,1131.3 L497.0,1131.3 L498.2,1131.8 L499.4,1132.8 L500.6,1133.5 L501.9,1133.9 L503.0,1135.3 L504.3,1136.8 L505.9,1138.5 L507.4,1138.1 L509.0,1138.4 L510.6,1139.4 L512.2,1141.4 L513.4,1142.2 L514.6,1142.0 L515.8,1142.5 L517.1,1143.2 L518.4,1144.0 L519.7,1143.3 L521.2,1142.6 L522.7,1142.0 L524.0,1142.8 L525.2,1144.2 L526.5,1146.4 L527.9,1147.2 L529.2,1147.6 L530.4,1147.3 L531.5,1148.4 L532.7,1149.7 L533.9,1151.4 L535.1,1152.9 L536.4,1154.2 L537.7,1154.6 L539.1,1154.6 L540.3,1154.5 L541.7,1155.0 L543.2,1156.3 L544.6,1158.2 L546.1,1160.9 L547.6,1162.4 L548.9,1162.4 L550.3,1161.1 L551.6,1160.4 L553.0,1160.5 L554.3,1161.0 L555.7,1161.4 L557.1,1162.0 L558.5,1162.5 L560.1,1162.8 L561.6,1162.4 L563.1,1162.2 L564.6,1162.7 L566.1,1163.9 L567.5,1165.1 L568.8,1166.0 L570.2,1166.8 L571.6,1167.9 L572.9,1168.2 L574.3,1168.2 L575.7,1168.3 L577.1,1168.6 L578.4,1168.7 L580.0,1168.9 L581.5,1170.6 L582.9,1172.1 L584.2,1173.1 L585.5,1172.4 L586.7,1172.3 L587.9,1172.9 L589.4,1174.7 L590.8,1176.1 L592.3,1177.0 L593.8,1176.9 L595.3,1177.2 L596.5,1177.7 L597.7,1178.5 L599.0,1178.4 L600.4,1178.0 L601.7,1177.4 L603.1,1178.1 L604.5,1178.8 L605.9,1179.4 L607.3,1179.5 L608.6,1180.2 L609.9,1181.3 L611.3,1182.3 L612.7,1182.9 L614.1,1183.1 L615.6,1182.6 L617.0,1182.4 L618.4,1182.9 L619.7,1184.5 L621.1,1187.1 L622.4,1189.5 L623.8,1191.4 L625.2,1192.2 L626.6,1192.8 L628.0,1193.2 L629.4,1193.4 L630.8,1193.0 L632.2,1192.2 L633.6,1191.3 L635.0,1191.5 L636.4,1192.3 L637.9,1193.0 L639.3,1193.0 L640.7,1193.3 L642.1,1194.3 L643.6,1196.1 L645.0,1196.6 L646.4,1196.3 L647.8,1195.5 L649.3,1196.4 L650.7,1197.2 L652.2,1197.3 L653.7,1196.8 L655.1,1197.0 L656.6,1197.1 L658.0,1196.6 L659.5,1195.7 L660.9,1196.2 L662.4,1197.8 L663.9,1200.2 L665.4,1201.3 L666.9,1201.3 L668.3,1200.6 L669.8,1199.6 L671.3,1199.8 L672.8,1200.7 L674.3,1201.9 L675.8,1202.2 L677.3,1201.4 L678.8,1201.0 L680.2,1201.6 L681.6,1203.5 L683.0,1204.4 L684.4,1204.6 L685.8,1204.1 L687.1,1204.1 L688.5,1204.7 L689.9,1206.2 L691.3,1208.5 L692.7,1209.9 L694.2,1209.8 L695.6,1208.1 L697.1,1207.8 L698.6,1209.0 L700.1,1211.5 L701.5,1212.9 L703.0,1213.1 L704.5,1212.4 L706.0,1210.9 L707.4,1208.8 L708.9,1208.2 L710.3,1209.0 L711.8,1211.1 L713.2,1212.2 L714.6,1212.8 L716.0,1213.1 L717.4,1213.1 L718.8,1213.4 L720.2,1214.1 L721.6,1215.2 L723.0,1215.8 L724.4,1216.3 L725.8,1216.8 L727.2,1217.6 L728.7,1217.9 L730.2,1218.4 L731.7,1219.3 L733.2,1218.8 L734.7,1217.4 L736.2,1215.5 L737.7,1214.9 L739.2,1215.4 L740.6,1216.2 L742.1,1216.9 L743.5,1217.2 L744.9,1218.1 L746.3,1219.4 L747.7,1220.6 L749.2,1220.5 L750.6,1220.0 L752.0,1219.4 L753.5,1219.3 L754.9,1219.6 L756.4,1220.4 L757.9,1221.9 L759.4,1222.3 L760.8,1221.6 L762.3,1220.5 L763.8,1220.6 L765.3,1221.5 L766.7,1222.6 L768.2,1223.8 L769.7,1225.0 L771.0,1225.6 L772.4,1225.8 L773.7,1225.5 L775.1,1226.1 L776.4,1227.2 L777.7,1228.9 L779.1,1230.0 L780.4,1230.7 L781.8,1231.0 L783.2,1230.3 L784.7,1228.7 L786.1,1226.9 L787.6,1226.7 L789.1,1227.8 L790.6,1229.4 L792.1,1230.9 L793.6,1231.4 L795.1,1231.9 L796.6,1232.5 L798.1,1232.9 L799.5,1233.3 L801.0,1234.0 L802.4,1234.4 L803.8,1233.6 L805.2,1232.6 L806.7,1232.8 L808.1,1234.4 L809.5,1236.2 L810.9,1236.9 L812.4,1237.4 L813.8,1239.0 L815.2,1240.0 L816.6,1240.2 L818.0,1239.2 L819.4,1238.8 L820.8,1238.8 L822.2,1239.2 L823.6,1240.2 L825.0,1240.4 L826.4,1240.3 L827.8,1240.0 L829.2,1240.9 L830.6,1242.0 L832.0,1242.9 L833.3,1243.7 L834.7,1244.6 L836.1,1245.6 L837.5,1246.0 L838.8,1246.6 L840.2,1247.6 L841.6,1250.1 L843.0,1251.9 L844.3,1252.8 L845.7,1251.6 L847.1,1250.2 L848.6,1249.1 L850.1,1249.2 L851.6,1250.2 L853.1,1250.5 L854.6,1250.1 L856.1,1249.0 L857.6,1247.6 L859.1,1247.1 L860.6,1247.6 L862.1,1249.0 L863.6,1250.4 L865.1,1249.9 L866.6,1248.7 L868.1,1247.6 L869.6,1249.7 L871.1,1251.8 L872.6,1252.5 L874.1,1250.9 L875.6,1248.5 L877.1,1248.8 L878.6,1250.6 L880.1,1252.7 L881.5,1252.7 L883.0,1251.7 L884.5,1250.5 L886.0,1249.6 L887.4,1250.4 L888.9,1251.6 L890.4,1253.0 L891.9,1254.2 L893.3,1254.6 L894.7,1255.1 L896.0,1255.5 L897.4,1255.9 L898.7,1255.9 L900.1,1255.6 L901.4,1256.1 L902.8,1257.2 L904.1,1258.8 L905.4,1259.9 L906.8,1260.8 L908.1,1261.7 L909.5,1263.0 L910.8,1263.5 L912.3,1263.1 L913.7,1262.3 L915.2,1262.4 L916.6,1262.5 L918.1,1262.3 L919.5,1262.0 L921.0,1262.7 L922.4,1264.3 L923.9,1266.7 L925.4,1266.2 L926.8,1265.0 L928.3,1263.8 L929.7,1264.7 L931.2,1265.0 L932.6,1264.6 L934.1,1263.4 L935.5,1264.1 L937.0,1265.0 L938.5,1265.8 L939.9,1265.3 L941.4,1265.1 L942.8,1265.1 L944.3,1264.9 L945.7,1263.5 L947.2,1262.5 L948.6,1262.3 L950.0,1263.2 L951.3,1265.4 L952.6,1267.2 L953.9,1268.6 L955.2,1268.3 L956.5,1268.1 L957.8,1268.3 L959.1,1269.7 L960.4,1271.3 L961.7,1272.6 L963.1,1273.4 L964.6,1273.6 L966.1,1273.5 L967.6,1273.2 L969.1,1273.4 L970.6,1273.4 L972.1,1273.2 L973.6,1272.4 L975.0,1272.7 L976.5,1274.2 L978.0,1277.3 L979.5,1279.0 L981.0,1277.7 L982.5,1275.1 L984.0,1272.3 L985.5,1273.0 L987.0,1273.6 L988.5,1273.3 L990.0,1271.6 L991.5,1271.3 L993.0,1271.1 L994.4,1270.8 L995.8,1270.0 L997.2,1270.0 L998.7,1270.4 L1000.1,1270.9 L1001.5,1270.0 L1002.9,1269.7 L1004.4,1269.7 L1005.8,1270.4 L1007.3,1268.9 L1008.8,1267.6 L1010.3,1267.4 L1011.8,1270.2 L1013.3,1272.2 L1014.7,1272.7 L1016.2,1271.8 L1017.7,1270.4 L1019.2,1269.3 L1020.7,1269.1 L1022.2,1270.2 L1023.4,1273.0 L1024.7,1275.1 L1025.9,1276.4 L1027.2,1276.2 L1028.5,1275.8 L1029.7,1275.1 L1031.1,1274.2 L1032.6,1273.7 L1034.1,1273.7 L1035.6,1274.6 L1037.1,1275.7 L1038.6,1276.2 L1040.1,1276.0 L1041.6,1276.3 L1043.1,1277.4 L1044.6,1278.1 L1046.0,1277.9 L1047.5,1277.2 L1049.0,1276.7 L1050.4,1275.9 L1051.9,1274.4 L1053.4,1272.9 L1054.8,1272.5 L1056.3,1272.8 L1057.8,1273.0 L1059.2,1273.0 L1060.7,1272.8 L1062.1,1272.7 L1063.6,1272.8 L1065.0,1273.8 L1066.5,1274.5 L1067.9,1274.7 L1069.3,1274.9 L1070.8,1275.2 L1072.2,1275.8 L1073.6,1276.2 L1075.1,1277.1 L1076.5,1278.0 L1077.9,1278.9 L1079.4,1278.7 L1080.8,1278.1 L1082.2,1276.9 L1083.7,1275.8 L1085.1,1275.6 L1086.6,1275.4 L1088.0,1274.8 L1089.4,1273.4 L1090.9,1272.6 L1092.3,1272.2 L1093.8,1272.2 L1095.2,1272.0 L1096.7,1272.0 L1098.1,1272.5 L1099.6,1273.5 L1101.0,1274.0 L1102.5,1273.9 L1103.9,1272.9 L1105.4,1271.1 L1106.8,1269.9 L1108.3,1269.4 L1109.7,1270.5 L1111.2,1272.1 L1112.7,1272.8 L1114.1,1272.2 L1115.6,1270.4 L1117.1,1270.5 L1118.6,1271.2 L1120.1,1271.6 L1121.6,1269.7 L1123.1,1269.2 L1124.6,1269.8 L1126.1,1271.2 L1127.6,1270.6 L1129.1,1269.9 L1130.6,1269.9 L1132.0,1271.7 L1133.4,1272.7 L1134.8,1272.8 L1136.2,1272.0 L1137.6,1271.2 L1139.0,1271.8 L1140.3,1273.3 L1141.7,1275.3 L1143.2,1275.9 L1144.7,1275.9 L1146.2,1275.5 L1147.7,1275.7 L1149.1,1276.2 L1150.6,1276.5 L1152.1,1276.5 L1153.6,1276.7 L1155.1,1276.5 L1156.6,1276.2 L1158.0,1276.1 L1159.5,1276.7 L1161.0,1276.3 L1162.5,1275.6 L1164.0,1275.4 L1165.4,1276.2 L1166.8,1276.2 L1168.2,1275.7 L1169.6,1275.9 L1171.0,1277.2 L1172.4,1278.8 L1173.8,1279.9 L1175.2,1280.8 L1176.6,1282.2 L1178.0,1284.3 L1179.4,1285.5 L1180.8,1286.2 L1182.2,1286.5 L1183.6,1287.5 L1185.0,1287.3 L1186.5,1285.6 L1188.0,1282.8 L1189.4,1280.5 L1190.9,1280.0 L1192.4,1281.0 L1193.9,1283.1 L1195.4,1283.5 L1196.9,1283.1 L1198.4,1282.6 L1199.8,1283.1 L1201.3,1283.5 L1202.8,1282.7 L1204.3,1281.1 L1205.8,1279.7 L1207.3,1280.0 L1208.8,1280.8 L1210.3,1282.1 L1211.8,1283.2 L1213.3,1283.2 L1214.8,1282.7 L1216.3,1282.0 L1217.8,1281.9 L1219.3,1282.2 L1220.8,1282.7 L1222.3,1283.5 L1223.8,1284.8 L1225.3,1284.8 L1226.8,1283.8 L1228.3,1282.2 L1229.8,1281.2 L1231.3,1281.0 L1232.8,1281.1 L1234.3,1281.1 L1235.6,1280.6 L1236.8,1279.9 L1238.1,1279.2 L1239.4,1278.1 L1240.7,1276.7 L1242.0,1275.3 L1243.3,1274.7 L1244.6,1274.9 L1245.9,1277.0 L1247.4,1279.3 L1248.8,1280.2 L1250.2,1280.0 L1251.7,1279.5 L1253.1,1279.4 L1254.6,1279.7 L1256.0,1280.5 L1257.4,1280.9 L1258.9,1279.9 L1260.3,1278.0 L1261.8,1275.8 L1263.2,1275.2 L1264.7,1275.2 L1266.1,1275.3 L1267.6,1274.6 L1269.0,1273.7 L1270.4,1273.0 L1271.9,1272.4 L1273.3,1272.3 L1274.8,1272.2 L1276.2,1272.2 L1277.6,1273.4 L1279.0,1274.5 L1280.4,1274.8 L1281.8,1273.3 L1283.2,1273.2 L1284.5,1274.4 L1285.9,1277.0 L1287.3,1278.3 L1288.7,1279.0 L1290.1,1279.2 L1291.5,1278.9 L1292.9,1278.6 L1294.3,1278.2 L1295.7,1277.9 L1297.2,1277.6 L1298.6,1277.1 L1300.0,1276.4 L1301.4,1275.4 L1302.8,1274.8 L1304.2,1274.6 L1305.6,1274.6 L1307.1,1274.4 L1308.6,1274.5 L1310.1,1275.1 L1311.6,1275.8 L1313.1,1275.7 L1314.6,1275.2 L1316.1,1274.5 L1317.6,1273.5 L1319.1,1273.2 L1320.6,1273.3 L1322.1,1273.5 L1323.6,1273.2 L1325.0,1273.3 L1326.5,1273.5 L1328.0,1273.4 L1329.5,1271.8 L1331.0,1270.7 L1332.4,1269.9 L1333.9,1269.6 L1335.4,1269.2 L1336.8,1270.0 L1338.2,1271.6 L1339.6,1273.3 L1341.1,1273.8 L1342.5,1274.1 L1343.9,1274.4 L1345.3,1275.3 L1346.8,1276.2 L1348.2,1277.0 L1349.6,1277.1 L1351.0,1275.9 L1352.4,1274.3 L1353.8,1272.7 L1355.2,1274.3 L1356.7,1276.5 L1358.1,1278.9 L1359.5,1278.9 L1360.9,1279.1 L1362.3,1279.5 L1363.7,1280.5 L1365.2,1280.0 L1366.7,1279.6 L1368.2,1279.8 L1369.7,1280.4 L1371.2,1280.1 L1372.7,1279.9 L1374.2,1279.8 L1375.7,1279.3 L1377.2,1278.4 L1378.7,1277.9 L1380.2,1278.0 L1381.7,1278.3 L1383.2,1278.8 L1384.7,1279.5 L1386.2,1280.2 L1387.7,1279.6 L1389.0,1279.0 L1390.1,1278.9 L1391.3,1279.5 L1392.4,1280.6 L1393.5,1282.7 L1394.6,1284.7 L1395.8,1286.7 L1396.9,1287.7 L1398.2,1287.9 L1399.7,1287.9 L1401.2,1287.6 L1402.7,1286.7 L1404.2,1285.5 L1405.7,1285.2 L1407.2,1285.1 L1408.7,1284.9 L1410.2,1284.6 L1411.7,1284.5 L1413.1,1284.5 L1414.6,1284.5 L1416.0,1284.6 L1417.4,1284.1 L1418.9,1283.8 L1420.3,1283.7 L1421.8,1283.5 L1423.2,1282.4 L1424.7,1281.5 L1426.1,1281.0 L1427.6,1281.1 L1429.0,1281.3 L1430.5,1281.5 L1431.9,1281.6 L1433.4,1281.1 L1434.9,1280.3 L1436.4,1279.6 L1437.8,1279.2 L1439.3,1279.2 L1440.8,1279.0 L1442.3,1278.7 L1443.8,1278.4 L1445.2,1277.7 L1446.7,1276.6 L1448.2,1275.2 L1449.7,1275.1 L1451.2,1275.8 L1452.6,1277.2 L1454.1,1278.2 L1455.6,1277.8 L1457.1,1276.5 L1458.6,1276.2 L1460.1,1277.6 L1461.6,1279.5 L1463.0,1280.2 L1464.5,1280.3 L1465.9,1280.5 L1467.4,1280.4 L1468.9,1280.6 L1470.3,1280.9 L1471.8,1281.0 L1473.3,1279.6 L1474.7,1278.5 L1476.2,1278.6 L1477.7,1280.8 L1479.1,1282.3 L1480.6,1282.9 L1482.0,1282.3 L1483.4,1282.1 L1484.8,1281.7 L1486.2,1281.0 L1487.6,1280.1 L1489.0,1279.7 L1490.5,1279.3 L1491.9,1278.4 L1493.3,1277.0 L1494.7,1276.2 L1496.1,1276.3 L1497.6,1277.1 L1499.0,1277.6 L1500.5,1278.2 L1501.9,1279.1 L1503.4,1279.6 L1504.9,1280.4 L1506.4,1280.8 L1507.8,1280.5 L1509.3,1278.2 L1510.8,1276.9 L1512.3,1276.9 L1513.8,1278.4 L1515.3,1278.9 L1516.8,1279.5 L1518.3,1280.2 L1519.8,1280.6 L1521.3,1279.8 L1522.8,1279.1 L1524.3,1278.7 L1525.8,1278.2 L1527.3,1278.1 L1528.7,1278.6 L1530.2,1279.7 L1531.7,1280.7 L1533.1,1281.4 L1534.6,1281.9 L1536.1,1282.2 L1537.5,1282.5 L1539.0,1282.0 L1540.5,1281.1 L1541.9,1279.7 L1543.4,1280.1 L1544.9,1281.2 L1546.4,1282.5 L1547.9,1283.0 L1549.3,1282.6 L1550.8,1282.6 L1552.3,1282.6 L1553.8,1282.2 L1555.3,1281.7 L1556.7,1282.2 L1558.2,1283.7 L1559.7,1285.0 L1561.2,1285.4 L1562.7,1285.4 L1564.2,1285.7 L1565.7,1285.6 L1567.2,1284.9 L1568.6,1284.1 L1570.1,1283.3 L1571.6,1283.4 L1573.1,1283.7 L1574.6,1283.6 L1576.1,1282.7 L1577.6,1281.6 L1579.1,1281.7 L1580.6,1282.5 L1582.1,1283.8 L1583.6,1284.6 L1585.1,1284.3 L1586.6,1283.4 L1588.1,1282.4 L1589.6,1282.0 L1591.1,1281.2 L1592.6,1280.5 L1594.1,1280.3 L1595.6,1281.8 L1597.1,1283.4 L1598.6,1284.6 L1599.9,1284.2 L1601.3,1282.5 L1602.6,1281.1 L1604.0,1280.3 L1605.3,1280.2 L1606.7,1279.7 L1608.0,1278.9 L1609.3,1278.5 L1610.7,1278.6 L1612.1,1279.4 L1613.5,1279.4 L1614.8,1279.1 L1616.2,1278.7 L1617.6,1278.6 L1619.0,1279.1 L1620.4,1279.8 L1621.8,1280.4 L1623.2,1281.6 L1624.6,1282.9 L1626.1,1284.2 L1627.5,1285.5 L1629.0,1285.8 L1630.5,1285.1 L1631.9,1283.2 L1633.4,1283.5 L1634.9,1284.5 L1636.3,1285.8 L1637.8,1286.6 L1639.3,1287.0 L1640.7,1286.1 L1642.0,1284.9 L1643.4,1283.6 L1644.8,1282.7 L1646.2,1282.2 L1647.6,1281.6 L1649.0,1281.0 L1650.3,1280.6 L1651.7,1280.7 L1653.1,1280.7 L1654.6,1280.7 L1656.1,1280.3 L1657.6,1280.2 L1659.1,1280.6 L1660.6,1281.3 L1662.1,1282.1 L1663.6,1283.1 L1665.1,1283.5 L1666.6,1283.3 L1668.1,1282.3 L1669.5,1282.3 L1671.0,1283.2 L1672.5,1284.0 L1674.0,1284.1 L1675.5,1283.2 L1677.0,1283.2 L1678.4,1283.5 L1679.9,1283.5 L1681.4,1282.8 L1682.9,1282.7 L1684.4,1283.3 L1685.8,1284.4 L1687.1,1285.6 L1688.4,1286.8 L1689.6,1287.5 L1690.8,1288.4 L1692.1,1289.4 L1693.3,1290.4 L1694.5,1291.0 L1695.7,1291.2 L1697.0,1291.1 L1698.4,1290.7 L1699.9,1291.1 L1701.3,1292.1 L1702.8,1292.1 L1704.3,1291.5 L1705.8,1291.4 L1707.3,1292.8 L1708.8,1294.3 L1710.3,1295.4 L1711.8,1295.1 L1713.2,1294.9 L1714.7,1295.0 L1716.2,1295.4 L1717.7,1295.8 L1719.1,1296.9 L1720.6,1297.7 L1722.1,1297.6 L1723.5,1296.9 L1725.0,1297.5 L1726.5,1298.6 L1727.9,1299.5 L1729.4,1299.5 L1730.9,1300.0 L1732.2,1299.9 L1733.5,1300.1 L1734.8,1300.1 L1736.0,1299.8 L1737.3,1298.3 L1738.6,1296.6 L1739.9,1294.8 L1741.2,1293.3 L1742.5,1292.0 L1744.0,1291.5 L1745.4,1292.7 L1746.9,1294.1 L1748.3,1295.2 L1749.8,1294.9 L1751.2,1294.7 L1752.7,1295.3 L1754.1,1296.9 L1755.6,1297.7 L1757.1,1296.3 L1758.6,1294.6 L1760.1,1293.3 L1761.6,1293.5 L1763.1,1293.0 L1764.6,1292.2 L1766.1,1291.3 L1767.6,1293.1 L1769.1,1294.6 L1770.4,1295.8 L1771.7,1294.9 L1773.1,1295.0 L1774.4,1295.7 L1775.8,1297.7 L1777.1,1298.6 L1778.5,1298.5 L1779.9,1296.6 L1781.3,1295.8 L1782.6,1295.9 L1784.0,1296.7 L1785.4,1296.9 L1786.8,1296.3 L1788.2,1295.1 L1789.6,1293.5 L1791.1,1293.9 L1792.5,1294.9 L1793.9,1296.3 L1795.4,1296.0 L1796.8,1295.5 L1798.3,1295.1 L1799.7,1295.1 L1801.2,1294.8 L1802.6,1295.1 L1804.0,1296.4 L1805.5,1298.7 L1807.0,1299.6 L1808.5,1299.8 L1810.0,1299.4 L1811.5,1298.3 L1813.0,1296.8 L1814.5,1295.8 L1816.0,1296.2 L1817.5,1298.7 L1819.0,1300.2 L1820.5,1300.4 L1822.0,1298.4 L1823.4,1296.1 L1824.9,1295.4 L1826.4,1296.1 L1827.9,1298.0 L1829.4,1297.8 L1830.9,1296.7 L1832.4,1295.6 L1833.9,1296.3 L1835.2,1297.2 L1836.5,1297.3 L1837.8,1296.3 L1839.1,1294.2 L1840.4,1292.4 L1841.7,1291.4 L1843.0,1290.6 L1844.3,1289.6 L1845.6,1287.6 L1846.9,1286.0 L1848.2,1285.5 L1849.6,1287.6 L1851.0,1290.0 L1852.4,1292.2 L1853.8,1293.2 L1855.1,1292.8 L1856.5,1291.8 L1857.9,1290.3 L1859.3,1289.8 L1860.7,1290.3 L1862.0,1291.9 L1863.4,1294.1 L1864.8,1294.6 L1866.2,1294.3 L1867.6,1292.9 L1868.9,1291.5 L1870.3,1289.9 L1871.7,1288.0 L1873.1,1287.0 L1874.5,1286.7 L1875.9,1287.3 L1877.3,1287.0 L1878.8,1286.4 L1880.3,1285.7 L1881.8,1286.1 L1883.3,1287.1 L1884.8,1287.5 L1886.3,1287.3 L1887.8,1287.1 L1889.3,1287.0 L1890.8,1287.7 L1892.2,1289.3 L1893.7,1291.3 L1895.1,1291.9 L1896.5,1292.0 L1898.0,1292.2" fill="none" stroke="#000000" stroke-width="11.9" stroke-linejoin="round" stroke-linecap="butt"/></g>
<rect x="1246.5" y="40.5" width="651.3" height="415.8" fill="#fff" stroke="#1a1a1a" stroke-width="3"/>
<path d="M1286,80.50 H1443" stroke="#00ff00" stroke-width="11.9" fill="none"/>
<path d="M1286,147.60 H1443" stroke="#ff00ff" stroke-width="11.9" fill="none" stroke-dasharray="39 36"/>
<path d="M1286,214.70 H1443" stroke="#fdb000" stroke-width="11.9" fill="none" stroke-dasharray="11 7.8"/>
<path d="M1286,281.80 H1443" stroke="#0000ff" stroke-width="11.9" fill="none" stroke-dasharray="38 9 20 8"/>
<path d="M1286,348.90 H1443" stroke="#be0e2d" stroke-width="11.9" fill="none" stroke-dasharray="11 7.8"/>
<path d="M1286,416.00 H1443" stroke="#000000" stroke-width="11.9" fill="none"/>
<g filter="url(#alias)">
<text x="191.7" y="67.70" text-anchor="end" font-size="54" fill="#404040">10</text>
<text x="191.7" y="257.81" text-anchor="end" font-size="54" fill="#404040">0</text>
<text x="191.7" y="447.92" text-anchor="end" font-size="54" fill="#404040">-10</text>
<text x="191.7" y="638.03" text-anchor="end" font-size="54" fill="#404040">-20</text>
<text x="191.7" y="828.14" text-anchor="end" font-size="54" fill="#404040">-30</text>
<text x="191.7" y="1018.25" text-anchor="end" font-size="54" fill="#404040">-40</text>
<text x="191.7" y="1208.36" text-anchor="end" font-size="54" fill="#404040">-50</text>
<text x="191.7" y="1398.47" text-anchor="end" font-size="54" fill="#404040">-60</text>
<text x="213.00" y="1455.5" text-anchor="middle" font-size="54" fill="#404040">0</text>
<text x="423.68" y="1455.5" text-anchor="middle" font-size="54" fill="#404040" textLength="104.2" lengthAdjust="spacingAndGlyphs">1000</text>
<text x="634.35" y="1455.5" text-anchor="middle" font-size="54" fill="#404040" textLength="104.2" lengthAdjust="spacingAndGlyphs">2000</text>
<text x="845.03" y="1455.5" text-anchor="middle" font-size="54" fill="#404040" textLength="104.2" lengthAdjust="spacingAndGlyphs">3000</text>
<text x="1055.70" y="1455.5" text-anchor="middle" font-size="54" fill="#404040" textLength="104.2" lengthAdjust="spacingAndGlyphs">4000</text>
<text x="1266.38" y="1455.5" text-anchor="middle" font-size="54" fill="#404040" textLength="104.2" lengthAdjust="spacingAndGlyphs">5000</text>
<text x="1477.05" y="1455.5" text-anchor="middle" font-size="54" fill="#404040" textLength="104.2" lengthAdjust="spacingAndGlyphs">6000</text>
<text x="1687.73" y="1455.5" text-anchor="middle" font-size="54" fill="#404040" textLength="104.2" lengthAdjust="spacingAndGlyphs">7000</text>
<text x="1898.40" y="1455.5" text-anchor="middle" font-size="54" fill="#404040" textLength="104.2" lengthAdjust="spacingAndGlyphs">8000</text>
<text x="932.7" y="1537" font-size="58.6" fill="#404040" textLength="241.9" lengthAdjust="spacingAndGlyphs">Iterations</text>
<text transform="translate(74.3,863.7) rotate(-90)" x="0" y="0" font-size="58.6" fill="#404040" textLength="284.6" lengthAdjust="spacingAndGlyphs">NMSD(dB)</text>
<text x="1453.8" y="92.20" font-size="49" fill="#000" textLength="247.2" lengthAdjust="spacingAndGlyphs">MMCCCIM</text>
<text x="1455.0" y="159.30" font-size="49" fill="#000" textLength="190.0" lengthAdjust="spacingAndGlyphs">APSAZA</text>
<text x="1455.0" y="226.40" font-size="49" fill="#000" textLength="275.1" lengthAdjust="spacingAndGlyphs">APMCCCIPF</text>
<text x="1453.2" y="293.50" font-size="49" fill="#000" textLength="403.6" lengthAdjust="spacingAndGlyphs">C-APGMC (μ=0.04)</text>
<text x="1455.2" y="360.60" font-size="49" fill="#000" textLength="372.2" lengthAdjust="spacingAndGlyphs">VSS-APMCCCIPF</text>
<text x="1453.15" y="427.70" font-size="49" fill="#000" textLength="228.6" lengthAdjust="spacingAndGlyphs">C-APGMC</text>
</g>
</svg>
</body></html>
